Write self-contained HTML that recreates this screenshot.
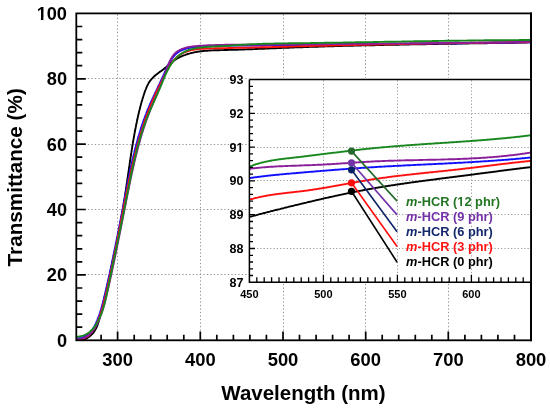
<!DOCTYPE html><html><head><meta charset="utf-8"><style>html,body{margin:0;padding:0;background:#fff;}svg{display:block;}text{font-family:"Liberation Sans",Arial,sans-serif;font-weight:bold;}</style></head><body>
<svg width="550" height="413" viewBox="0 0 550 413">
<rect width="550" height="413" fill="#fff"/>
<defs><clipPath id="cm"><rect x="76.3" y="13.4" width="454.7" height="326.9"/></clipPath>
<clipPath id="ci"><rect x="249.4" y="79.5" width="281.6" height="202.8"/></clipPath></defs>
<path d="M117.5,14.4 V340.3 M200.5,14.4 V340.3 M283.5,14.4 V340.3 M365.5,14.4 V340.3 M448.5,14.4 V340.3 M77.3,274.5 H531 M77.3,209.5 H531 M77.3,144.5 H531 M77.3,78.5 H531" stroke="#929292" stroke-width="1" stroke-dasharray="1.3 2.2" fill="none"/>
<path d="M84.6,340.3 v-5.5 M101.1,340.3 v-5.5 M117.6,340.3 v-8.8 M134.2,340.3 v-5.5 M150.7,340.3 v-5.5 M167.2,340.3 v-5.5 M183.8,340.3 v-5.5 M200.3,340.3 v-8.8 M216.8,340.3 v-5.5 M233.4,340.3 v-5.5 M249.9,340.3 v-5.5 M266.4,340.3 v-5.5 M283,340.3 v-8.8 M299.5,340.3 v-5.5 M316.1,340.3 v-5.5 M332.6,340.3 v-5.5 M349.1,340.3 v-5.5 M365.7,340.3 v-8.8 M382.2,340.3 v-5.5 M398.7,340.3 v-5.5 M415.3,340.3 v-5.5 M431.8,340.3 v-5.5 M448.3,340.3 v-8.8 M464.9,340.3 v-5.5 M481.4,340.3 v-5.5 M497.9,340.3 v-5.5 M514.5,340.3 v-5.5 M76.3,327.2 h6 M76.3,314.1 h6 M76.3,301.1 h6 M76.3,288 h6 M76.3,274.9 h9.5 M76.3,261.8 h6 M76.3,248.8 h6 M76.3,235.7 h6 M76.3,222.6 h6 M76.3,209.5 h9.5 M76.3,196.5 h6 M76.3,183.4 h6 M76.3,170.3 h6 M76.3,157.2 h6 M76.3,144.2 h9.5 M76.3,131.1 h6 M76.3,118 h6 M76.3,104.9 h6 M76.3,91.9 h6 M76.3,78.8 h9.5 M76.3,65.7 h6 M76.3,52.6 h6 M76.3,39.6 h6 M76.3,26.5 h6" stroke="#000" stroke-width="1.7" fill="none"/>
<g clip-path="url(#cm)" fill="none" stroke-width="1.9" stroke-linejoin="round" stroke-linecap="round">
<path d="M76.2,340 L77,340.1 77.8,340.2 78.6,340.2 79.4,340.2 80.2,340.2 81,340.1 81.8,340 82.6,339.8 83.3,339.6 84.1,339.4 84.9,339.1 85.6,338.8 86.3,338.5 87,338.1 87.7,337.7 88.4,337.3 89.1,336.8 89.7,336.3 90.3,335.8 90.9,335.3 91.5,334.7 92.1,334.1 92.6,333.6 93.1,332.9 93.6,332.3 94.1,331.7 94.5,331 95,330.3 95.4,329.6 95.8,328.9 96.1,328.2 96.5,327.5 96.8,326.8 97.1,326 97.4,325.3 97.7,324.5 97.9,323.8 98.2,323 98.4,322.2 98.7,321.5 98.9,320.7 99.1,319.9 99.3,319.2 99.5,318.4 99.7,317.6 99.9,316.8 100.1,316.1 100.3,315.3 100.5,314.5 100.7,313.7 100.9,313 101.1,312.2 101.3,311.4 101.5,310.6 101.6,309.8 101.8,309.1 102,308.3 102.2,307.5 102.4,306.7 102.6,305.9 102.7,305.2 102.9,304.4 103.1,303.6 103.3,302.8 103.5,302 103.7,301.3 103.8,300.5 104,299.7 104.2,298.9 104.4,298.1 104.6,297.3 104.7,296.6 104.9,295.8 105.1,295 105.3,294.2 105.5,293.4 105.6,292.7 105.8,291.9 106,291.1 106.2,290.3 106.4,289.5 106.5,288.8 106.7,288 106.9,287.2 107.1,286.4 107.2,285.6 107.4,284.9 107.6,284.1 107.8,283.3 108,282.5 108.1,281.7 108.3,280.9 108.5,280.2 108.7,279.4 108.8,278.6 109,277.8 109.2,277 109.4,276.3 109.5,275.5 109.7,274.7 109.9,273.9 110.1,273.1 110.2,272.3 110.4,271.6 110.6,270.8 110.7,270 110.9,269.2 111.1,268.4 111.3,267.6 111.4,266.9 111.6,266.1 111.8,265.3 111.9,264.5 112.1,263.7 112.3,262.9 112.5,262.2 112.6,261.4 112.8,260.6 113,259.8 113.1,259 113.3,258.2 113.5,257.5 113.6,256.7 113.8,255.9 114,255.1 114.1,254.3 114.3,253.5 114.5,252.8 114.6,252 114.8,251.2 115,250.4 115.1,249.6 115.3,248.8 115.4,248.1 115.6,247.3 115.8,246.5 115.9,245.7 116.1,244.9 116.2,244.1 116.4,243.3 116.6,242.6 116.7,241.8 116.9,241 117,240.2 117.2,239.4 117.4,238.6 117.5,237.8 117.7,237.1 117.8,236.3 118,235.5 118.1,234.7 118.3,233.9 118.4,233.1 118.6,232.3 118.7,231.6 118.9,230.8 119,230 119.2,229.2 119.3,228.4 119.5,227.6 119.6,226.8 119.8,226 119.9,225.3 120.1,224.5 120.2,223.7 120.4,222.9 120.5,222.1 120.7,221.3 120.8,220.5 121,219.7 121.1,218.9 121.2,218.2 121.4,217.4 121.5,216.6 121.7,215.8 121.8,215 121.9,214.2 122.1,213.4 122.2,212.6 122.4,211.8 122.5,211.1 122.6,210.3 122.8,209.5 122.9,208.7 123,207.9 123.2,207.1 123.3,206.3 123.4,205.5 123.6,204.7 123.7,203.9 123.8,203.2 123.9,202.4 124.1,201.6 124.2,200.8 124.3,200 124.4,199.2 124.6,198.4 124.7,197.6 124.8,196.8 124.9,196 125.1,195.2 125.2,194.4 125.3,193.7 125.4,192.9 125.5,192.1 125.7,191.3 125.8,190.5 125.9,189.7 126,188.9 126.1,188.1 126.3,187.3 126.4,186.5 126.5,185.7 126.6,184.9 126.7,184.1 126.8,183.3 127,182.6 127.1,181.8 127.2,181 127.3,180.2 127.4,179.4 127.5,178.6 127.6,177.8 127.8,177 127.9,176.2 128,175.4 128.1,174.6 128.2,173.8 128.3,173 128.4,172.2 128.6,171.5 128.7,170.7 128.8,169.9 128.9,169.1 129,168.3 129.1,167.5 129.2,166.7 129.4,165.9 129.5,165.1 129.6,164.3 129.7,163.5 129.8,162.7 129.9,161.9 130.1,161.1 130.2,160.3 130.3,159.6 130.4,158.8 130.5,158 130.6,157.2 130.8,156.4 130.9,155.6 131,154.8 131.1,154 131.2,153.2 131.4,152.4 131.5,151.6 131.6,150.8 131.7,150 131.9,149.3 132,148.5 132.1,147.7 132.2,146.9 132.4,146.1 132.5,145.3 132.6,144.5 132.8,143.7 132.9,142.9 133,142.1 133.2,141.3 133.3,140.6 133.4,139.8 133.6,139 133.7,138.2 133.8,137.4 134,136.6 134.1,135.8 134.3,135 134.4,134.2 134.5,133.5 134.7,132.7 134.8,131.9 135,131.1 135.1,130.3 135.3,129.5 135.4,128.7 135.6,127.9 135.7,127.2 135.9,126.4 136,125.6 136.2,124.8 136.4,124 136.5,123.2 136.7,122.4 136.9,121.7 137,120.9 137.2,120.1 137.4,119.3 137.5,118.5 137.7,117.7 137.9,117 138,116.2 138.2,115.4 138.4,114.6 138.6,113.8 138.8,113.1 138.9,112.3 139.1,111.5 139.3,110.7 139.5,109.9 139.7,109.2 139.9,108.4 140.1,107.6 140.3,106.8 140.5,106.1 140.7,105.3 140.9,104.5 141.1,103.7 141.3,103 141.5,102.2 141.8,101.4 142,100.6 142.2,99.9 142.4,99.1 142.7,98.3 142.9,97.6 143.2,96.8 143.4,96.1 143.6,95.3 143.9,94.5 144.1,93.8 144.4,93 144.7,92.2 144.9,91.5 145.2,90.7 145.5,90 145.8,89.2 146.1,88.5 146.4,87.7 146.7,87 147,86.3 147.3,85.6 147.7,84.8 148.1,84.1 148.4,83.4 148.8,82.7 149.3,82.1 149.7,81.4 150.2,80.7 150.7,80.1 151.2,79.5 151.7,78.9 152.3,78.3 152.8,77.7 153.4,77.2 154,76.6 154.6,76.1 155.2,75.6 155.8,75 156.4,74.5 157.1,74 157.7,73.6 158.3,73.1 159,72.6 159.6,72.1 160.2,71.6 160.9,71.2 161.5,70.7 162.2,70.2 162.8,69.7 163.5,69.2 164.1,68.7 164.7,68.2 165.3,67.7 166,67.2 166.6,66.7 167.2,66.2 167.8,65.7 168.4,65.1 169,64.6 169.6,64.1 170.2,63.6 170.8,63.1 171.5,62.6 172.1,62.1 172.7,61.6 173.4,61.1 174,60.6 174.6,60.1 175.3,59.7 176,59.2 176.7,58.8 177.3,58.4 178,58 178.8,57.6 179.5,57.3 180.2,56.9 180.9,56.6 181.6,56.3 182.4,55.9 183.1,55.6 183.9,55.3 184.6,55.1 185.4,54.8 186.1,54.5 186.9,54.3 187.7,54 188.4,53.8 189.2,53.6 190,53.4 190.7,53.2 191.5,53 192.3,52.8 193.1,52.6 193.9,52.4 194.6,52.3 195.4,52.1 196.2,52 197,51.8 197.8,51.7 198.6,51.6 199.4,51.5 200.2,51.4 201,51.3 201.8,51.2 202.6,51.1 203.4,51 204.2,50.9 205,50.9 205.8,50.8 206.6,50.7 207.4,50.7 208.2,50.6 209,50.6 209.8,50.5 210.6,50.5 211.4,50.4 212.2,50.4 213,50.4 213.8,50.3 214.6,50.3 215.4,50.3 216.2,50.2 217,50.2 217.8,50.2 218.6,50.2 219.4,50.2 220.2,50.1 221,50.1 221.8,50.1 222.6,50.1 223.4,50.1 224.2,50 225,50 225.8,50 226.6,50 227.4,50 228.2,49.9 229,49.9 229.8,49.9 230.6,49.9 231.4,49.9 232.2,49.8 233,49.8 233.8,49.8 234.6,49.8 235.4,49.7 236.2,49.7 237,49.7 237.8,49.7 238.6,49.6 239.4,49.6 240.2,49.6 241,49.6 241.8,49.5 242.6,49.5 243.4,49.5 244.2,49.5 245,49.4 245.8,49.4 246.6,49.4 247.4,49.3 248.2,49.3 249,49.3 249.8,49.2 250.6,49.2 251.4,49.2 252.2,49.2 253,49.1 253.8,49.1 254.6,49.1 255.4,49 256.2,49 257,49 257.8,48.9 258.6,48.9 259.4,48.9 260.2,48.8 261,48.8 261.8,48.8 262.6,48.7 263.4,48.7 264.2,48.7 265,48.6 265.8,48.6 266.6,48.6 267.4,48.5 268.2,48.5 269,48.5 269.8,48.4 270.6,48.4 271.4,48.4 272.2,48.3 273,48.3 273.8,48.3 274.6,48.2 275.4,48.2 276.2,48.2 277,48.1 277.8,48.1 278.6,48.1 279.4,48 280.2,48 281,48 281.8,47.9 282.6,47.9 283.4,47.9 284.2,47.8 285,47.8 285.8,47.8 286.6,47.7 287.4,47.7 288.2,47.7 289,47.7 289.8,47.6 290.6,47.6 291.4,47.6 292.2,47.5 293,47.5 293.8,47.5 294.6,47.4 295.4,47.4 296.2,47.4 297,47.4 297.8,47.3 298.6,47.3 299.4,47.3 300.2,47.2 301,47.2 301.8,47.2 302.6,47.2 303.5,47.1 304.3,47.1 305.1,47.1 305.9,47 306.7,47 307.5,47 308.3,47 309.1,46.9 309.9,46.9 310.7,46.9 311.5,46.9 312.3,46.8 313.1,46.8 313.9,46.8 314.7,46.8 315.5,46.7 316.3,46.7 317.1,46.7 317.9,46.7 318.7,46.6 319.5,46.6 320.3,46.6 321.1,46.6 321.9,46.5 322.7,46.5 323.5,46.5 324.3,46.5 325.1,46.4 325.9,46.4 326.7,46.4 327.5,46.4 328.3,46.3 329.1,46.3 329.9,46.3 330.7,46.3 331.5,46.2 332.3,46.2 333.1,46.2 333.9,46.2 334.7,46.1 335.5,46.1 336.3,46.1 337.1,46.1 337.9,46.1 338.7,46 339.5,46 340.3,46 341.1,46 341.9,46 342.7,45.9 343.5,45.9 344.3,45.9 345.1,45.9 345.9,45.8 346.7,45.8 347.5,45.8 348.3,45.8 349.1,45.8 349.9,45.7 350.7,45.7 351.5,45.7 352.3,45.7 353.1,45.7 353.9,45.6 354.7,45.6 355.5,45.6 356.3,45.6 357.1,45.6 357.9,45.5 358.7,45.5 359.5,45.5 360.3,45.5 361.1,45.5 361.9,45.4 362.7,45.4 363.5,45.4 364.3,45.4 365.1,45.4 365.9,45.4 366.7,45.3 367.5,45.3 368.3,45.3 369.1,45.3 369.9,45.3 370.7,45.2 371.5,45.2 372.3,45.2 373.1,45.2 373.9,45.2 374.7,45.2 375.5,45.1 376.3,45.1 377.1,45.1 377.9,45.1 378.7,45.1 379.5,45 380.4,45 381.2,45 382,45 382.8,45 383.6,45 384.4,44.9 385.2,44.9 386,44.9 386.8,44.9 387.6,44.9 388.4,44.9 389.2,44.8 390,44.8 390.8,44.8 391.6,44.8 392.4,44.8 393.2,44.8 394,44.8 394.8,44.7 395.6,44.7 396.4,44.7 397.2,44.7 398,44.7 398.8,44.7 399.6,44.6 400.4,44.6 401.2,44.6 402,44.6 402.8,44.6 403.6,44.6 404.4,44.6 405.2,44.5 406,44.5 406.8,44.5 407.6,44.5 408.4,44.5 409.2,44.5 410,44.4 410.8,44.4 411.6,44.4 412.4,44.4 413.2,44.4 414,44.4 414.8,44.4 415.6,44.3 416.4,44.3 417.2,44.3 418,44.3 418.8,44.3 419.6,44.3 420.4,44.3 421.2,44.2 422,44.2 422.8,44.2 423.6,44.2 424.4,44.2 425.2,44.2 426,44.2 426.8,44.1 427.6,44.1 428.4,44.1 429.2,44.1 430,44.1 430.8,44.1 431.6,44.1 432.4,44.1 433.2,44 434,44 434.8,44 435.6,44 436.4,44 437.2,44 438,44 438.8,43.9 439.6,43.9 440.4,43.9 441.2,43.9 442,43.9 442.8,43.9 443.6,43.9 444.4,43.8 445.2,43.8 446.1,43.8 446.9,43.8 447.7,43.8 448.5,43.8 449.3,43.8 450.1,43.8 450.9,43.7 451.7,43.7 452.5,43.7 453.3,43.7 454.1,43.7 454.9,43.7 455.7,43.7 456.5,43.7 457.3,43.6 458.1,43.6 458.9,43.6 459.7,43.6 460.5,43.6 461.3,43.6 462.1,43.6 462.9,43.5 463.7,43.5 464.5,43.5 465.3,43.5 466.1,43.5 466.9,43.5 467.7,43.5 468.5,43.5 469.3,43.4 470.1,43.4 470.9,43.4 471.7,43.4 472.5,43.4 473.3,43.4 474.1,43.4 474.9,43.3 475.7,43.3 476.5,43.3 477.3,43.3 478.1,43.3 478.9,43.3 479.7,43.3 480.5,43.3 481.3,43.2 482.1,43.2 482.9,43.2 483.7,43.2 484.5,43.2 485.3,43.2 486.1,43.2 486.9,43.2 487.7,43.1 488.5,43.1 489.3,43.1 490.1,43.1 490.9,43.1 491.7,43.1 492.5,43.1 493.3,43 494.1,43 494.9,43 495.7,43 496.5,43 497.3,43 498.1,43 498.9,42.9 499.7,42.9 500.5,42.9 501.3,42.9 502.1,42.9 502.9,42.9 503.7,42.9 504.5,42.8 505.3,42.8 506.1,42.8 506.9,42.8 507.7,42.8 508.5,42.8 509.3,42.8 510.1,42.8 511,42.7 511.8,42.7 512.6,42.7 513.4,42.7 514.2,42.7 515,42.7 515.8,42.6 516.6,42.6 517.4,42.6 518.2,42.6 519,42.6 519.8,42.6 520.6,42.6 521.4,42.5 522.2,42.5 523,42.5 523.8,42.5 524.6,42.5 525.4,42.5 526.2,42.5 527,42.4 527.8,42.4 528.6,42.4 529.4,42.4 530.2,42.4 531,42.4" stroke="#000000"/>
<path d="M76.1,338.3 L76.9,338.3 77.7,338.3 78.5,338.3 79.3,338.2 80.1,338.1 80.9,338 81.7,337.8 82.4,337.6 83.2,337.3 83.9,337 84.7,336.7 85.4,336.4 86.1,336 86.8,335.5 87.4,335.1 88.1,334.6 88.7,334.1 89.3,333.5 89.8,333 90.4,332.4 90.9,331.8 91.4,331.1 91.9,330.5 92.3,329.8 92.8,329.2 93.2,328.5 93.6,327.8 94,327.1 94.4,326.4 94.8,325.7 95.1,325 95.5,324.2 95.8,323.5 96.1,322.8 96.4,322 96.7,321.3 97.1,320.6 97.4,319.8 97.6,319.1 97.9,318.3 98.2,317.6 98.5,316.8 98.8,316.1 99,315.3 99.3,314.6 99.6,313.8 99.8,313 100.1,312.3 100.3,311.5 100.6,310.8 100.8,310 101,309.2 101.3,308.5 101.5,307.7 101.7,306.9 101.9,306.1 102.2,305.4 102.4,304.6 102.6,303.8 102.8,303.1 103,302.3 103.2,301.5 103.4,300.7 103.6,299.9 103.8,299.2 104,298.4 104.2,297.6 104.4,296.8 104.5,296.1 104.7,295.3 104.9,294.5 105.1,293.7 105.3,292.9 105.5,292.2 105.6,291.4 105.8,290.6 106,289.8 106.2,289 106.4,288.2 106.5,287.5 106.7,286.7 106.9,285.9 107.1,285.1 107.2,284.3 107.4,283.6 107.6,282.8 107.8,282 107.9,281.2 108.1,280.4 108.3,279.6 108.5,278.9 108.6,278.1 108.8,277.3 109,276.5 109.2,275.7 109.3,274.9 109.5,274.2 109.7,273.4 109.8,272.6 110,271.8 110.2,271 110.3,270.2 110.5,269.5 110.7,268.7 110.8,267.9 111,267.1 111.2,266.3 111.3,265.5 111.5,264.8 111.7,264 111.8,263.2 112,262.4 112.2,261.6 112.3,260.8 112.5,260 112.7,259.3 112.8,258.5 113,257.7 113.2,256.9 113.3,256.1 113.5,255.3 113.6,254.6 113.8,253.8 114,253 114.1,252.2 114.3,251.4 114.5,250.6 114.6,249.8 114.8,249.1 114.9,248.3 115.1,247.5 115.3,246.7 115.4,245.9 115.6,245.1 115.7,244.3 115.9,243.6 116.1,242.8 116.2,242 116.4,241.2 116.5,240.4 116.7,239.6 116.8,238.8 117,238.1 117.2,237.3 117.3,236.5 117.5,235.7 117.6,234.9 117.8,234.1 117.9,233.3 118.1,232.5 118.2,231.8 118.4,231 118.6,230.2 118.7,229.4 118.9,228.6 119,227.8 119.2,227 119.3,226.3 119.5,225.5 119.6,224.7 119.8,223.9 119.9,223.1 120.1,222.3 120.3,221.5 120.4,220.7 120.6,220 120.7,219.2 120.9,218.4 121,217.6 121.2,216.8 121.3,216 121.5,215.2 121.6,214.4 121.8,213.7 121.9,212.9 122.1,212.1 122.2,211.3 122.4,210.5 122.5,209.7 122.7,208.9 122.8,208.2 123,207.4 123.1,206.6 123.3,205.8 123.4,205 123.6,204.2 123.7,203.4 123.9,202.6 124,201.9 124.2,201.1 124.3,200.3 124.5,199.5 124.6,198.7 124.8,197.9 124.9,197.1 125.1,196.3 125.2,195.6 125.4,194.8 125.5,194 125.7,193.2 125.8,192.4 126,191.6 126.1,190.8 126.3,190 126.4,189.3 126.6,188.5 126.7,187.7 126.9,186.9 127,186.1 127.2,185.3 127.4,184.5 127.5,183.7 127.7,183 127.8,182.2 128,181.4 128.1,180.6 128.3,179.8 128.4,179 128.6,178.2 128.8,177.5 128.9,176.7 129.1,175.9 129.2,175.1 129.4,174.3 129.6,173.5 129.7,172.7 129.9,172 130,171.2 130.2,170.4 130.4,169.6 130.5,168.8 130.7,168 130.9,167.2 131,166.5 131.2,165.7 131.4,164.9 131.6,164.1 131.7,163.3 131.9,162.5 132.1,161.8 132.2,161 132.4,160.2 132.6,159.4 132.8,158.6 133,157.9 133.1,157.1 133.3,156.3 133.5,155.5 133.7,154.7 133.9,154 134.1,153.2 134.3,152.4 134.4,151.6 134.6,150.8 134.8,150.1 135,149.3 135.2,148.5 135.4,147.7 135.6,147 135.8,146.2 136,145.4 136.2,144.6 136.4,143.9 136.6,143.1 136.9,142.3 137.1,141.5 137.3,140.8 137.5,140 137.7,139.2 137.9,138.4 138.1,137.7 138.4,136.9 138.6,136.1 138.8,135.4 139,134.6 139.3,133.8 139.5,133.1 139.7,132.3 140,131.5 140.2,130.8 140.4,130 140.7,129.2 140.9,128.5 141.2,127.7 141.4,126.9 141.7,126.2 141.9,125.4 142.2,124.6 142.4,123.9 142.7,123.1 142.9,122.4 143.2,121.6 143.5,120.9 143.7,120.1 144,119.3 144.3,118.6 144.6,117.8 144.8,117.1 145.1,116.3 145.4,115.6 145.7,114.8 146,114.1 146.3,113.3 146.5,112.6 146.8,111.8 147.1,111.1 147.4,110.4 147.7,109.6 148,108.9 148.4,108.1 148.7,107.4 149,106.7 149.3,105.9 149.6,105.2 149.9,104.4 150.2,103.7 150.6,103 150.9,102.2 151.2,101.5 151.6,100.8 151.9,100.1 152.2,99.3 152.5,98.6 152.9,97.9 153.2,97.1 153.6,96.4 153.9,95.7 154.2,95 154.6,94.2 154.9,93.5 155.3,92.8 155.6,92.1 155.9,91.3 156.3,90.6 156.6,89.9 157,89.2 157.3,88.4 157.7,87.7 158,87 158.3,86.3 158.7,85.5 159,84.8 159.4,84.1 159.7,83.4 160,82.6 160.4,81.9 160.7,81.2 161.1,80.4 161.4,79.7 161.7,79 162.1,78.3 162.4,77.5 162.7,76.8 163.1,76.1 163.4,75.3 163.7,74.6 164.1,73.9 164.4,73.2 164.7,72.4 165,71.7 165.4,71 165.7,70.2 166.1,69.5 166.4,68.8 166.7,68.1 167.1,67.3 167.4,66.6 167.8,65.9 168.2,65.2 168.5,64.5 168.9,63.8 169.3,63.1 169.7,62.4 170.1,61.7 170.5,61 170.9,60.3 171.3,59.6 171.8,59 172.2,58.3 172.7,57.6 173.2,57 173.7,56.4 174.2,55.8 174.7,55.2 175.3,54.6 175.9,54 176.5,53.5 177.1,53 177.7,52.5 178.4,52.1 179.1,51.6 179.8,51.2 180.5,50.8 181.2,50.5 181.9,50.2 182.7,49.8 183.4,49.6 184.2,49.3 184.9,49 185.7,48.8 186.5,48.6 187.2,48.4 188,48.2 188.8,48.1 189.6,47.9 190.4,47.8 191.2,47.6 192,47.5 192.8,47.4 193.6,47.3 194.4,47.2 195.2,47.1 196,47 196.8,47 197.6,46.9 198.3,46.8 199.1,46.8 199.9,46.7 200.7,46.6 201.5,46.6 202.3,46.5 203.1,46.5 203.9,46.4 204.7,46.4 205.5,46.3 206.3,46.3 207.1,46.2 207.9,46.2 208.7,46.1 209.5,46.1 210.4,46.1 211.2,46 212,46 212.8,46 213.6,45.9 214.4,45.9 215.2,45.9 216,45.9 216.8,45.8 217.6,45.8 218.4,45.8 219.2,45.8 220,45.8 220.8,45.7 221.6,45.7 222.4,45.7 223.2,45.7 224,45.7 224.8,45.7 225.6,45.7 226.4,45.7 227.2,45.7 228,45.6 228.8,45.6 229.6,45.6 230.4,45.6 231.2,45.6 232,45.6 232.8,45.6 233.6,45.6 234.4,45.6 235.2,45.6 236,45.6 236.8,45.6 237.6,45.6 238.4,45.6 239.2,45.6 240,45.6 240.8,45.6 241.6,45.6 242.4,45.6 243.2,45.6 244,45.6 244.8,45.6 245.6,45.6 246.4,45.6 247.2,45.6 248,45.6 248.8,45.6 249.6,45.6 250.4,45.6 251.2,45.6 252,45.6 252.8,45.6 253.6,45.6 254.4,45.6 255.2,45.6 256,45.5 256.8,45.5 257.6,45.5 258.4,45.5 259.2,45.5 260,45.5 260.9,45.5 261.7,45.5 262.5,45.5 263.3,45.5 264.1,45.5 264.9,45.5 265.7,45.5 266.5,45.4 267.3,45.4 268.1,45.4 268.9,45.4 269.7,45.4 270.5,45.4 271.3,45.4 272.1,45.4 272.9,45.4 273.7,45.4 274.5,45.3 275.3,45.3 276.1,45.3 276.9,45.3 277.7,45.3 278.5,45.3 279.3,45.3 280.1,45.3 280.9,45.2 281.7,45.2 282.5,45.2 283.3,45.2 284.1,45.2 284.9,45.2 285.7,45.2 286.5,45.2 287.3,45.2 288.1,45.1 288.9,45.1 289.7,45.1 290.5,45.1 291.3,45.1 292.1,45.1 292.9,45.1 293.7,45.1 294.5,45 295.3,45 296.1,45 296.9,45 297.7,45 298.5,45 299.3,45 300.1,45 300.9,45 301.7,44.9 302.5,44.9 303.3,44.9 304.1,44.9 304.9,44.9 305.7,44.9 306.5,44.9 307.3,44.9 308.1,44.9 308.9,44.8 309.8,44.8 310.6,44.8 311.4,44.8 312.2,44.8 313,44.8 313.8,44.8 314.6,44.8 315.4,44.8 316.2,44.8 317,44.7 317.8,44.7 318.6,44.7 319.4,44.7 320.2,44.7 321,44.7 321.8,44.7 322.6,44.7 323.4,44.7 324.2,44.7 325,44.6 325.8,44.6 326.6,44.6 327.4,44.6 328.2,44.6 329,44.6 329.8,44.6 330.6,44.6 331.4,44.6 332.2,44.6 333,44.5 333.8,44.5 334.6,44.5 335.4,44.5 336.2,44.5 337,44.5 337.8,44.5 338.6,44.5 339.4,44.5 340.2,44.5 341,44.4 341.8,44.4 342.6,44.4 343.4,44.4 344.2,44.4 345,44.4 345.8,44.4 346.6,44.4 347.4,44.4 348.2,44.4 349,44.4 349.8,44.3 350.6,44.3 351.4,44.3 352.2,44.3 353,44.3 353.8,44.3 354.6,44.3 355.4,44.3 356.2,44.3 357,44.3 357.8,44.3 358.7,44.2 359.5,44.2 360.3,44.2 361.1,44.2 361.9,44.2 362.7,44.2 363.5,44.2 364.3,44.2 365.1,44.2 365.9,44.2 366.7,44.2 367.5,44.1 368.3,44.1 369.1,44.1 369.9,44.1 370.7,44.1 371.5,44.1 372.3,44.1 373.1,44.1 373.9,44.1 374.7,44.1 375.5,44.1 376.3,44.1 377.1,44 377.9,44 378.7,44 379.5,44 380.3,44 381.1,44 381.9,44 382.7,44 383.5,44 384.3,44 385.1,44 385.9,44 386.7,43.9 387.5,43.9 388.3,43.9 389.1,43.9 389.9,43.9 390.7,43.9 391.5,43.9 392.3,43.9 393.1,43.9 393.9,43.9 394.7,43.9 395.5,43.9 396.3,43.8 397.1,43.8 397.9,43.8 398.7,43.8 399.5,43.8 400.3,43.8 401.1,43.8 401.9,43.8 402.7,43.8 403.5,43.8 404.3,43.8 405.1,43.8 405.9,43.7 406.7,43.7 407.6,43.7 408.4,43.7 409.2,43.7 410,43.7 410.8,43.7 411.6,43.7 412.4,43.7 413.2,43.7 414,43.7 414.8,43.7 415.6,43.6 416.4,43.6 417.2,43.6 418,43.6 418.8,43.6 419.6,43.6 420.4,43.6 421.2,43.6 422,43.6 422.8,43.6 423.6,43.6 424.4,43.6 425.2,43.5 426,43.5 426.8,43.5 427.6,43.5 428.4,43.5 429.2,43.5 430,43.5 430.8,43.5 431.6,43.5 432.4,43.5 433.2,43.5 434,43.5 434.8,43.4 435.6,43.4 436.4,43.4 437.2,43.4 438,43.4 438.8,43.4 439.6,43.4 440.4,43.4 441.2,43.4 442,43.4 442.8,43.4 443.6,43.4 444.4,43.3 445.2,43.3 446,43.3 446.8,43.3 447.6,43.3 448.4,43.3 449.2,43.3 450,43.3 450.8,43.3 451.6,43.3 452.4,43.3 453.2,43.2 454,43.2 454.8,43.2 455.7,43.2 456.5,43.2 457.3,43.2 458.1,43.2 458.9,43.2 459.7,43.2 460.5,43.2 461.3,43.2 462.1,43.2 462.9,43.1 463.7,43.1 464.5,43.1 465.3,43.1 466.1,43.1 466.9,43.1 467.7,43.1 468.5,43.1 469.3,43.1 470.1,43.1 470.9,43.1 471.7,43 472.5,43 473.3,43 474.1,43 474.9,43 475.7,43 476.5,43 477.3,43 478.1,43 478.9,43 479.7,42.9 480.5,42.9 481.3,42.9 482.1,42.9 482.9,42.9 483.7,42.9 484.5,42.9 485.3,42.9 486.1,42.9 486.9,42.9 487.7,42.9 488.5,42.8 489.3,42.8 490.1,42.8 490.9,42.8 491.7,42.8 492.5,42.8 493.3,42.8 494.1,42.8 494.9,42.8 495.7,42.8 496.5,42.7 497.3,42.7 498.1,42.7 498.9,42.7 499.7,42.7 500.5,42.7 501.3,42.7 502.1,42.7 502.9,42.7 503.7,42.6 504.6,42.6 505.4,42.6 506.2,42.6 507,42.6 507.8,42.6 508.6,42.6 509.4,42.6 510.2,42.6 511,42.6 511.8,42.5 512.6,42.5 513.4,42.5 514.2,42.5 515,42.5 515.8,42.5 516.6,42.5 517.4,42.5 518.2,42.5 519,42.4 519.8,42.4 520.6,42.4 521.4,42.4 522.2,42.4 523,42.4 523.8,42.4 524.6,42.4 525.4,42.3 526.2,42.3 527,42.3 527.8,42.3 528.6,42.3 529.4,42.3 530.2,42.3 531,42.3" stroke="#1010ff"/>
<path d="M76.2,339.8 L77,339.8 77.8,339.8 78.6,339.7 79.4,339.6 80.2,339.5 81,339.3 81.8,339.1 82.5,338.9 83.3,338.7 84,338.4 84.8,338 85.5,337.7 86.2,337.3 86.8,336.8 87.5,336.4 88.1,335.9 88.7,335.4 89.3,334.8 89.9,334.3 90.5,333.7 91,333.1 91.5,332.5 92,331.8 92.5,331.2 92.9,330.5 93.4,329.8 93.8,329.2 94.2,328.5 94.6,327.8 95,327.1 95.3,326.4 95.7,325.6 96,324.9 96.4,324.2 96.7,323.5 97,322.7 97.3,322 97.7,321.3 98,320.5 98.3,319.8 98.5,319 98.8,318.3 99.1,317.5 99.4,316.8 99.7,316 99.9,315.3 100.2,314.5 100.4,313.7 100.7,313 101,312.2 101.2,311.5 101.4,310.7 101.7,309.9 101.9,309.2 102.1,308.4 102.4,307.6 102.6,306.9 102.8,306.1 103,305.3 103.2,304.5 103.4,303.8 103.6,303 103.8,302.2 104.1,301.4 104.2,300.7 104.4,299.9 104.6,299.1 104.8,298.3 105,297.5 105.2,296.8 105.4,296 105.6,295.2 105.8,294.4 105.9,293.7 106.1,292.9 106.3,292.1 106.5,291.3 106.7,290.5 106.8,289.7 107,289 107.2,288.2 107.4,287.4 107.6,286.6 107.7,285.8 107.9,285.1 108.1,284.3 108.2,283.5 108.4,282.7 108.6,281.9 108.8,281.1 108.9,280.4 109.1,279.6 109.3,278.8 109.5,278 109.6,277.2 109.8,276.4 110,275.7 110.1,274.9 110.3,274.1 110.5,273.3 110.6,272.5 110.8,271.7 111,271 111.1,270.2 111.3,269.4 111.5,268.6 111.6,267.8 111.8,267 112,266.3 112.1,265.5 112.3,264.7 112.5,263.9 112.6,263.1 112.8,262.3 112.9,261.5 113.1,260.8 113.3,260 113.4,259.2 113.6,258.4 113.7,257.6 113.9,256.8 114.1,256 114.2,255.3 114.4,254.5 114.5,253.7 114.7,252.9 114.9,252.1 115,251.3 115.2,250.5 115.3,249.8 115.5,249 115.7,248.2 115.8,247.4 116,246.6 116.1,245.8 116.3,245 116.4,244.3 116.6,243.5 116.8,242.7 116.9,241.9 117.1,241.1 117.2,240.3 117.4,239.5 117.5,238.8 117.7,238 117.8,237.2 118,236.4 118.2,235.6 118.3,234.8 118.5,234 118.6,233.3 118.8,232.5 118.9,231.7 119.1,230.9 119.2,230.1 119.4,229.3 119.5,228.5 119.7,227.7 119.8,227 120,226.2 120.2,225.4 120.3,224.6 120.5,223.8 120.6,223 120.8,222.2 120.9,221.5 121.1,220.7 121.2,219.9 121.4,219.1 121.5,218.3 121.7,217.5 121.8,216.7 122,215.9 122.1,215.2 122.3,214.4 122.4,213.6 122.6,212.8 122.8,212 122.9,211.2 123.1,210.4 123.2,209.7 123.4,208.9 123.5,208.1 123.7,207.3 123.8,206.5 124,205.7 124.1,204.9 124.3,204.1 124.4,203.4 124.6,202.6 124.8,201.8 124.9,201 125.1,200.2 125.2,199.4 125.4,198.6 125.5,197.9 125.7,197.1 125.8,196.3 126,195.5 126.1,194.7 126.3,193.9 126.5,193.1 126.6,192.4 126.8,191.6 126.9,190.8 127.1,190 127.2,189.2 127.4,188.4 127.6,187.6 127.7,186.8 127.9,186.1 128,185.3 128.2,184.5 128.4,183.7 128.5,182.9 128.7,182.1 128.8,181.4 129,180.6 129.2,179.8 129.3,179 129.5,178.2 129.7,177.4 129.8,176.6 130,175.9 130.2,175.1 130.3,174.3 130.5,173.5 130.7,172.7 130.8,171.9 131,171.2 131.2,170.4 131.4,169.6 131.5,168.8 131.7,168 131.9,167.2 132.1,166.5 132.2,165.7 132.4,164.9 132.6,164.1 132.8,163.3 133,162.6 133.1,161.8 133.3,161 133.5,160.2 133.7,159.4 133.9,158.7 134.1,157.9 134.3,157.1 134.4,156.3 134.6,155.5 134.8,154.8 135,154 135.2,153.2 135.4,152.4 135.6,151.7 135.8,150.9 136,150.1 136.2,149.3 136.4,148.6 136.6,147.8 136.8,147 137,146.2 137.2,145.5 137.4,144.7 137.6,143.9 137.9,143.1 138.1,142.4 138.3,141.6 138.5,140.8 138.7,140 138.9,139.3 139.2,138.5 139.4,137.7 139.6,137 139.8,136.2 140,135.4 140.3,134.7 140.5,133.9 140.7,133.1 141,132.4 141.2,131.6 141.4,130.8 141.7,130.1 141.9,129.3 142.2,128.5 142.4,127.8 142.7,127 142.9,126.2 143.2,125.5 143.4,124.7 143.7,124 143.9,123.2 144.2,122.4 144.4,121.7 144.7,120.9 145,120.2 145.2,119.4 145.5,118.7 145.8,117.9 146,117.1 146.3,116.4 146.6,115.6 146.8,114.9 147.1,114.1 147.4,113.4 147.7,112.6 148,111.9 148.3,111.1 148.6,110.4 148.8,109.6 149.1,108.9 149.4,108.2 149.7,107.4 150,106.7 150.3,105.9 150.6,105.2 151,104.4 151.3,103.7 151.6,103 151.9,102.2 152.2,101.5 152.5,100.8 152.8,100 153.2,99.3 153.5,98.6 153.8,97.8 154.1,97.1 154.5,96.4 154.8,95.6 155.1,94.9 155.4,94.2 155.8,93.4 156.1,92.7 156.5,92 156.8,91.2 157.1,90.5 157.5,89.8 157.8,89.1 158.1,88.3 158.5,87.6 158.8,86.9 159.2,86.2 159.5,85.5 159.9,84.7 160.2,84 160.6,83.3 160.9,82.6 161.3,81.8 161.6,81.1 162,80.4 162.3,79.7 162.7,79 163,78.2 163.4,77.5 163.7,76.8 164.1,76.1 164.5,75.4 164.8,74.7 165.2,73.9 165.5,73.2 165.9,72.5 166.3,71.8 166.6,71.1 167,70.4 167.4,69.7 167.8,69 168.2,68.3 168.6,67.6 169,66.9 169.4,66.2 169.8,65.5 170.3,64.9 170.7,64.2 171.2,63.5 171.6,62.9 172.1,62.2 172.6,61.6 173.1,61 173.6,60.4 174.1,59.7 174.7,59.2 175.2,58.6 175.8,58 176.4,57.5 177,56.9 177.6,56.4 178.2,55.9 178.9,55.5 179.5,55 180.2,54.6 180.9,54.2 181.6,53.8 182.3,53.4 183,53 183.8,52.7 184.5,52.4 185.2,52.1 186,51.8 186.7,51.5 187.5,51.3 188.3,51 189,50.8 189.8,50.6 190.6,50.4 191.4,50.2 192.1,50 192.9,49.9 193.7,49.7 194.5,49.6 195.3,49.5 196.1,49.4 196.9,49.2 197.7,49.2 198.5,49.1 199.3,49 200.1,48.9 200.9,48.9 201.7,48.8 202.5,48.8 203.3,48.7 204.1,48.7 204.9,48.6 205.7,48.6 206.5,48.6 207.3,48.5 208.1,48.5 208.9,48.5 209.7,48.5 210.5,48.5 211.3,48.4 212.1,48.4 212.9,48.4 213.7,48.4 214.5,48.4 215.3,48.3 216.1,48.3 216.9,48.3 217.7,48.3 218.5,48.3 219.3,48.2 220.1,48.2 220.9,48.2 221.7,48.2 222.5,48.2 223.3,48.2 224.1,48.1 224.9,48.1 225.7,48.1 226.5,48.1 227.3,48.1 228.1,48 228.9,48 229.7,48 230.5,48 231.3,48 232.1,48 232.9,47.9 233.7,47.9 234.5,47.9 235.3,47.9 236.1,47.9 236.9,47.9 237.7,47.8 238.5,47.8 239.3,47.8 240.1,47.8 240.9,47.8 241.7,47.8 242.5,47.7 243.3,47.7 244.1,47.7 244.9,47.7 245.7,47.7 246.5,47.6 247.3,47.6 248.1,47.6 248.9,47.6 249.7,47.6 250.5,47.6 251.3,47.5 252.1,47.5 252.9,47.5 253.7,47.5 254.5,47.5 255.4,47.4 256.2,47.4 257,47.4 257.8,47.4 258.6,47.4 259.4,47.4 260.2,47.3 261,47.3 261.8,47.3 262.6,47.3 263.4,47.3 264.2,47.2 265,47.2 265.8,47.2 266.6,47.2 267.4,47.2 268.2,47.1 269,47.1 269.8,47.1 270.6,47.1 271.4,47.1 272.2,47 273,47 273.8,47 274.6,47 275.4,46.9 276.2,46.9 277,46.9 277.8,46.9 278.6,46.9 279.4,46.8 280.2,46.8 281,46.8 281.8,46.8 282.6,46.8 283.4,46.7 284.2,46.7 285,46.7 285.8,46.7 286.6,46.7 287.4,46.6 288.2,46.6 289,46.6 289.8,46.6 290.6,46.6 291.4,46.5 292.2,46.5 293,46.5 293.8,46.5 294.6,46.5 295.4,46.4 296.2,46.4 297,46.4 297.8,46.4 298.6,46.3 299.4,46.3 300.2,46.3 301,46.3 301.8,46.3 302.6,46.2 303.4,46.2 304.2,46.2 305,46.2 305.8,46.2 306.6,46.1 307.4,46.1 308.2,46.1 309,46.1 309.8,46.1 310.6,46 311.4,46 312.2,46 313,46 313.8,46 314.6,45.9 315.4,45.9 316.2,45.9 317,45.9 317.8,45.9 318.6,45.8 319.4,45.8 320.3,45.8 321.1,45.8 321.9,45.8 322.7,45.8 323.5,45.7 324.3,45.7 325.1,45.7 325.9,45.7 326.7,45.7 327.5,45.6 328.3,45.6 329.1,45.6 329.9,45.6 330.7,45.6 331.5,45.5 332.3,45.5 333.1,45.5 333.9,45.5 334.7,45.5 335.5,45.4 336.3,45.4 337.1,45.4 337.9,45.4 338.7,45.4 339.5,45.3 340.3,45.3 341.1,45.3 341.9,45.3 342.7,45.3 343.5,45.3 344.3,45.2 345.1,45.2 345.9,45.2 346.7,45.2 347.5,45.2 348.3,45.1 349.1,45.1 349.9,45.1 350.7,45.1 351.5,45.1 352.3,45.1 353.1,45 353.9,45 354.7,45 355.5,45 356.3,45 357.1,44.9 357.9,44.9 358.7,44.9 359.5,44.9 360.3,44.9 361.1,44.9 361.9,44.8 362.7,44.8 363.5,44.8 364.3,44.8 365.1,44.8 365.9,44.8 366.7,44.7 367.5,44.7 368.3,44.7 369.1,44.7 369.9,44.7 370.7,44.6 371.5,44.6 372.3,44.6 373.1,44.6 373.9,44.6 374.7,44.6 375.5,44.5 376.3,44.5 377.1,44.5 377.9,44.5 378.7,44.5 379.5,44.5 380.3,44.4 381.1,44.4 381.9,44.4 382.8,44.4 383.6,44.4 384.4,44.4 385.2,44.3 386,44.3 386.8,44.3 387.6,44.3 388.4,44.3 389.2,44.3 390,44.2 390.8,44.2 391.6,44.2 392.4,44.2 393.2,44.2 394,44.2 394.8,44.2 395.6,44.1 396.4,44.1 397.2,44.1 398,44.1 398.8,44.1 399.6,44.1 400.4,44 401.2,44 402,44 402.8,44 403.6,44 404.4,44 405.2,43.9 406,43.9 406.8,43.9 407.6,43.9 408.4,43.9 409.2,43.9 410,43.9 410.8,43.8 411.6,43.8 412.4,43.8 413.2,43.8 414,43.8 414.8,43.8 415.6,43.8 416.4,43.7 417.2,43.7 418,43.7 418.8,43.7 419.6,43.7 420.4,43.7 421.2,43.6 422,43.6 422.8,43.6 423.6,43.6 424.4,43.6 425.2,43.6 426,43.6 426.8,43.5 427.6,43.5 428.4,43.5 429.2,43.5 430,43.5 430.8,43.5 431.6,43.5 432.4,43.4 433.2,43.4 434,43.4 434.8,43.4 435.6,43.4 436.4,43.4 437.2,43.4 438,43.4 438.8,43.3 439.6,43.3 440.4,43.3 441.2,43.3 442.1,43.3 442.9,43.3 443.7,43.3 444.5,43.2 445.3,43.2 446.1,43.2 446.9,43.2 447.7,43.2 448.5,43.2 449.3,43.2 450.1,43.2 450.9,43.1 451.7,43.1 452.5,43.1 453.3,43.1 454.1,43.1 454.9,43.1 455.7,43.1 456.5,43.1 457.3,43 458.1,43 458.9,43 459.7,43 460.5,43 461.3,43 462.1,43 462.9,43 463.7,42.9 464.5,42.9 465.3,42.9 466.1,42.9 466.9,42.9 467.7,42.9 468.5,42.9 469.3,42.9 470.1,42.8 470.9,42.8 471.7,42.8 472.5,42.8 473.3,42.8 474.1,42.8 474.9,42.8 475.7,42.8 476.5,42.8 477.3,42.7 478.1,42.7 478.9,42.7 479.7,42.7 480.5,42.7 481.3,42.7 482.1,42.7 482.9,42.7 483.7,42.7 484.5,42.6 485.3,42.6 486.1,42.6 486.9,42.6 487.7,42.6 488.5,42.6 489.3,42.6 490.1,42.6 490.9,42.6 491.7,42.6 492.5,42.5 493.3,42.5 494.1,42.5 494.9,42.5 495.7,42.5 496.5,42.5 497.3,42.5 498.1,42.5 499,42.5 499.8,42.5 500.6,42.4 501.4,42.4 502.2,42.4 503,42.4 503.8,42.4 504.6,42.4 505.4,42.4 506.2,42.4 507,42.4 507.8,42.4 508.6,42.3 509.4,42.3 510.2,42.3 511,42.3 511.8,42.3 512.6,42.3 513.4,42.3 514.2,42.3 515,42.3 515.8,42.3 516.6,42.3 517.4,42.3 518.2,42.2 519,42.2 519.8,42.2 520.6,42.2 521.4,42.2 522.2,42.2 523,42.2 523.8,42.2 524.6,42.2 525.4,42.2 526.2,42.2 527,42.2 527.8,42.1 528.6,42.1 529.4,42.1 530.2,42.1 531,42.1" stroke="#ff1010"/>
<path d="M76.1,339.1 L76.9,339.1 77.7,339.1 78.5,339.1 79.3,339 80.1,338.9 80.9,338.7 81.7,338.6 82.5,338.4 83.3,338.1 84,337.9 84.7,337.6 85.5,337.2 86.2,336.8 86.9,336.4 87.5,336 88.2,335.5 88.8,335.1 89.4,334.5 90,334 90.6,333.4 91.2,332.9 91.7,332.3 92.2,331.7 92.7,331 93.2,330.4 93.7,329.7 94.1,329.1 94.6,328.4 95,327.7 95.4,327 95.8,326.3 96.2,325.6 96.6,324.9 96.9,324.2 97.3,323.5 97.6,322.8 98,322.1 98.3,321.3 98.6,320.6 98.9,319.9 99.3,319.1 99.6,318.4 99.9,317.6 100.2,316.9 100.4,316.2 100.7,315.4 101,314.7 101.3,313.9 101.6,313.1 101.8,312.4 102.1,311.6 102.3,310.9 102.6,310.1 102.8,309.3 103.1,308.6 103.3,307.8 103.5,307 103.7,306.3 104,305.5 104.2,304.7 104.4,304 104.6,303.2 104.8,302.4 105,301.6 105.2,300.9 105.4,300.1 105.6,299.3 105.8,298.5 106,297.8 106.2,297 106.4,296.2 106.6,295.4 106.8,294.6 107,293.9 107.1,293.1 107.3,292.3 107.5,291.5 107.7,290.7 107.9,290 108,289.2 108.2,288.4 108.4,287.6 108.6,286.8 108.7,286.1 108.9,285.3 109.1,284.5 109.3,283.7 109.4,282.9 109.6,282.1 109.8,281.4 110,280.6 110.1,279.8 110.3,279 110.5,278.2 110.6,277.5 110.8,276.7 111,275.9 111.2,275.1 111.3,274.3 111.5,273.5 111.7,272.8 111.8,272 112,271.2 112.2,270.4 112.3,269.6 112.5,268.8 112.7,268.1 112.8,267.3 113,266.5 113.2,265.7 113.3,264.9 113.5,264.1 113.7,263.4 113.8,262.6 114,261.8 114.2,261 114.3,260.2 114.5,259.4 114.6,258.6 114.8,257.9 115,257.1 115.1,256.3 115.3,255.5 115.5,254.7 115.6,253.9 115.8,253.2 115.9,252.4 116.1,251.6 116.3,250.8 116.4,250 116.6,249.2 116.7,248.4 116.9,247.7 117.1,246.9 117.2,246.1 117.4,245.3 117.5,244.5 117.7,243.7 117.9,242.9 118,242.2 118.2,241.4 118.3,240.6 118.5,239.8 118.6,239 118.8,238.2 119,237.5 119.1,236.7 119.3,235.9 119.4,235.1 119.6,234.3 119.8,233.5 119.9,232.7 120.1,232 120.2,231.2 120.4,230.4 120.5,229.6 120.7,228.8 120.8,228 121,227.2 121.2,226.5 121.3,225.7 121.5,224.9 121.6,224.1 121.8,223.3 121.9,222.5 122.1,221.7 122.2,220.9 122.4,220.2 122.6,219.4 122.7,218.6 122.9,217.8 123,217 123.2,216.2 123.3,215.4 123.5,214.7 123.6,213.9 123.8,213.1 124,212.3 124.1,211.5 124.3,210.7 124.4,209.9 124.6,209.2 124.7,208.4 124.9,207.6 125,206.8 125.2,206 125.4,205.2 125.5,204.4 125.7,203.7 125.8,202.9 126,202.1 126.1,201.3 126.3,200.5 126.4,199.7 126.6,198.9 126.8,198.2 126.9,197.4 127.1,196.6 127.2,195.8 127.4,195 127.5,194.2 127.7,193.4 127.9,192.7 128,191.9 128.2,191.1 128.3,190.3 128.5,189.5 128.7,188.7 128.8,187.9 129,187.2 129.1,186.4 129.3,185.6 129.5,184.8 129.6,184 129.8,183.2 129.9,182.5 130.1,181.7 130.3,180.9 130.4,180.1 130.6,179.3 130.8,178.5 130.9,177.8 131.1,177 131.3,176.2 131.4,175.4 131.6,174.6 131.8,173.8 131.9,173.1 132.1,172.3 132.3,171.5 132.5,170.7 132.6,169.9 132.8,169.1 133,168.4 133.2,167.6 133.3,166.8 133.5,166 133.7,165.2 133.9,164.5 134,163.7 134.2,162.9 134.4,162.1 134.6,161.3 134.8,160.6 135,159.8 135.1,159 135.3,158.2 135.5,157.4 135.7,156.7 135.9,155.9 136.1,155.1 136.3,154.3 136.5,153.5 136.7,152.8 136.9,152 137.1,151.2 137.3,150.4 137.5,149.7 137.7,148.9 137.9,148.1 138.1,147.3 138.3,146.6 138.5,145.8 138.7,145 138.9,144.2 139.1,143.5 139.4,142.7 139.6,141.9 139.8,141.2 140,140.4 140.2,139.6 140.4,138.8 140.7,138.1 140.9,137.3 141.1,136.5 141.3,135.8 141.6,135 141.8,134.2 142,133.5 142.3,132.7 142.5,131.9 142.8,131.2 143,130.4 143.2,129.7 143.5,128.9 143.7,128.1 144,127.4 144.2,126.6 144.5,125.8 144.7,125.1 145,124.3 145.2,123.6 145.5,122.8 145.8,122 146,121.3 146.3,120.5 146.6,119.8 146.8,119 147.1,118.3 147.4,117.5 147.7,116.8 147.9,116 148.2,115.3 148.5,114.5 148.8,113.8 149.1,113 149.4,112.3 149.7,111.5 149.9,110.8 150.2,110 150.5,109.3 150.8,108.6 151.1,107.8 151.5,107.1 151.8,106.3 152.1,105.6 152.4,104.9 152.7,104.1 153,103.4 153.3,102.6 153.6,101.9 154,101.2 154.3,100.4 154.6,99.7 154.9,99 155.2,98.2 155.6,97.5 155.9,96.8 156.2,96 156.5,95.3 156.8,94.6 157.2,93.8 157.5,93.1 157.8,92.4 158.1,91.6 158.4,90.9 158.7,90.1 159,89.4 159.4,88.7 159.7,87.9 160,87.2 160.3,86.5 160.6,85.7 160.9,85 161.2,84.2 161.5,83.5 161.8,82.7 162.1,82 162.4,81.2 162.6,80.5 162.9,79.7 163.2,79 163.5,78.2 163.8,77.5 164,76.7 164.3,76 164.5,75.2 164.8,74.5 165.1,73.7 165.3,72.9 165.6,72.2 165.8,71.4 166.1,70.7 166.3,69.9 166.6,69.1 166.9,68.4 167.1,67.6 167.4,66.9 167.7,66.1 168,65.4 168.3,64.6 168.6,63.9 168.9,63.2 169.2,62.4 169.5,61.7 169.9,61 170.2,60.3 170.6,59.5 171,58.8 171.4,58.1 171.8,57.5 172.2,56.8 172.7,56.1 173.2,55.5 173.6,54.8 174.2,54.2 174.7,53.7 175.3,53.1 175.9,52.6 176.5,52.1 177.2,51.6 177.8,51.1 178.5,50.7 179.2,50.3 179.9,49.9 180.6,49.6 181.3,49.2 182.1,48.9 182.8,48.7 183.6,48.4 184.4,48.2 185.1,47.9 185.9,47.7 186.7,47.5 187.5,47.3 188.2,47.2 189,47 189.8,46.9 190.6,46.8 191.4,46.6 192.2,46.5 193,46.4 193.8,46.3 194.6,46.3 195.4,46.2 196.2,46.1 197,46 197.8,46 198.6,45.9 199.4,45.8 200.2,45.8 201,45.7 201.8,45.7 202.6,45.6 203.4,45.6 204.2,45.5 205,45.5 205.8,45.4 206.6,45.4 207.4,45.3 208.2,45.3 209,45.3 209.8,45.2 210.6,45.2 211.4,45.2 212.2,45.1 213,45.1 213.8,45.1 214.6,45.1 215.4,45 216.2,45 217,45 217.8,45 218.6,45 219.4,44.9 220.2,44.9 221,44.9 221.8,44.9 222.6,44.9 223.4,44.9 224.2,44.9 225,44.8 225.8,44.8 226.6,44.8 227.4,44.8 228.2,44.8 229,44.8 229.8,44.8 230.6,44.8 231.4,44.8 232.2,44.8 233,44.8 233.8,44.8 234.6,44.8 235.4,44.8 236.2,44.8 237,44.8 237.8,44.8 238.6,44.8 239.4,44.8 240.2,44.8 241,44.8 241.8,44.8 242.6,44.8 243.4,44.8 244.2,44.8 245,44.8 245.8,44.8 246.6,44.8 247.4,44.8 248.2,44.8 249,44.8 249.8,44.8 250.6,44.8 251.4,44.8 252.2,44.8 253,44.8 253.8,44.8 254.6,44.8 255.4,44.8 256.2,44.8 257,44.8 257.8,44.8 258.6,44.8 259.4,44.7 260.2,44.7 261,44.7 261.8,44.7 262.6,44.7 263.4,44.7 264.2,44.7 265,44.7 265.8,44.7 266.6,44.7 267.4,44.7 268.2,44.7 269,44.7 269.8,44.7 270.7,44.7 271.5,44.7 272.3,44.7 273.1,44.7 273.9,44.6 274.7,44.6 275.5,44.6 276.3,44.6 277.1,44.6 277.9,44.6 278.7,44.6 279.5,44.6 280.3,44.6 281.1,44.6 281.9,44.6 282.7,44.6 283.5,44.6 284.3,44.6 285.1,44.5 285.9,44.5 286.7,44.5 287.5,44.5 288.3,44.5 289.1,44.5 289.9,44.5 290.7,44.5 291.5,44.5 292.3,44.5 293.1,44.5 293.9,44.5 294.7,44.4 295.5,44.4 296.3,44.4 297.1,44.4 297.9,44.4 298.7,44.4 299.5,44.4 300.3,44.4 301.1,44.4 301.9,44.4 302.7,44.4 303.5,44.4 304.3,44.4 305.1,44.3 305.9,44.3 306.7,44.3 307.5,44.3 308.3,44.3 309.1,44.3 309.9,44.3 310.7,44.3 311.5,44.3 312.3,44.3 313.1,44.3 313.9,44.3 314.7,44.3 315.5,44.2 316.3,44.2 317.1,44.2 317.9,44.2 318.7,44.2 319.5,44.2 320.3,44.2 321.1,44.2 321.9,44.2 322.7,44.2 323.5,44.2 324.3,44.2 325.1,44.2 325.9,44.1 326.7,44.1 327.5,44.1 328.3,44.1 329.1,44.1 329.9,44.1 330.7,44.1 331.5,44.1 332.3,44.1 333.1,44.1 333.9,44.1 334.7,44.1 335.5,44.1 336.3,44 337.1,44 337.9,44 338.7,44 339.5,44 340.3,44 341.1,44 341.9,44 342.8,44 343.6,44 344.4,44 345.2,44 346,44 346.8,44 347.6,43.9 348.4,43.9 349.2,43.9 350,43.9 350.8,43.9 351.6,43.9 352.4,43.9 353.2,43.9 354,43.9 354.8,43.9 355.6,43.9 356.4,43.9 357.2,43.9 358,43.8 358.8,43.8 359.6,43.8 360.4,43.8 361.2,43.8 362,43.8 362.8,43.8 363.6,43.8 364.4,43.8 365.2,43.8 366,43.8 366.8,43.8 367.6,43.8 368.4,43.7 369.2,43.7 370,43.7 370.8,43.7 371.6,43.7 372.4,43.7 373.2,43.7 374,43.7 374.8,43.7 375.6,43.7 376.4,43.7 377.2,43.7 378,43.7 378.8,43.6 379.6,43.6 380.4,43.6 381.2,43.6 382,43.6 382.8,43.6 383.6,43.6 384.4,43.6 385.2,43.6 386,43.6 386.8,43.6 387.6,43.6 388.4,43.6 389.2,43.5 390,43.5 390.8,43.5 391.6,43.5 392.4,43.5 393.2,43.5 394,43.5 394.8,43.5 395.6,43.5 396.4,43.5 397.2,43.5 398,43.5 398.8,43.5 399.6,43.4 400.4,43.4 401.2,43.4 402,43.4 402.8,43.4 403.6,43.4 404.4,43.4 405.2,43.4 406,43.4 406.8,43.4 407.6,43.4 408.4,43.4 409.2,43.3 410,43.3 410.8,43.3 411.6,43.3 412.4,43.3 413.2,43.3 414,43.3 414.8,43.3 415.7,43.3 416.5,43.3 417.3,43.3 418.1,43.3 418.9,43.2 419.7,43.2 420.5,43.2 421.3,43.2 422.1,43.2 422.9,43.2 423.7,43.2 424.5,43.2 425.3,43.2 426.1,43.2 426.9,43.2 427.7,43.2 428.5,43.1 429.3,43.1 430.1,43.1 430.9,43.1 431.7,43.1 432.5,43.1 433.3,43.1 434.1,43.1 434.9,43.1 435.7,43.1 436.5,43.1 437.3,43 438.1,43 438.9,43 439.7,43 440.5,43 441.3,43 442.1,43 442.9,43 443.7,43 444.5,43 445.3,43 446.1,42.9 446.9,42.9 447.7,42.9 448.5,42.9 449.3,42.9 450.1,42.9 450.9,42.9 451.7,42.9 452.5,42.9 453.3,42.9 454.1,42.9 454.9,42.8 455.7,42.8 456.5,42.8 457.3,42.8 458.1,42.8 458.9,42.8 459.7,42.8 460.5,42.8 461.3,42.8 462.1,42.8 462.9,42.7 463.7,42.7 464.5,42.7 465.3,42.7 466.1,42.7 466.9,42.7 467.7,42.7 468.5,42.7 469.3,42.7 470.1,42.7 470.9,42.7 471.7,42.6 472.5,42.6 473.3,42.6 474.1,42.6 474.9,42.6 475.7,42.6 476.5,42.6 477.3,42.6 478.1,42.6 478.9,42.5 479.7,42.5 480.5,42.5 481.3,42.5 482.1,42.5 482.9,42.5 483.7,42.5 484.5,42.5 485.3,42.5 486.1,42.5 486.9,42.4 487.7,42.4 488.6,42.4 489.4,42.4 490.2,42.4 491,42.4 491.8,42.4 492.6,42.4 493.4,42.4 494.2,42.3 495,42.3 495.8,42.3 496.6,42.3 497.4,42.3 498.2,42.3 499,42.3 499.8,42.3 500.6,42.3 501.4,42.2 502.2,42.2 503,42.2 503.8,42.2 504.6,42.2 505.4,42.2 506.2,42.2 507,42.2 507.8,42.2 508.6,42.1 509.4,42.1 510.2,42.1 511,42.1 511.8,42.1 512.6,42.1 513.4,42.1 514.2,42.1 515,42 515.8,42 516.6,42 517.4,42 518.2,42 519,42 519.8,42 520.6,42 521.4,41.9 522.2,41.9 523,41.9 523.8,41.9 524.6,41.9 525.4,41.9 526.2,41.9 527,41.9 527.8,41.8 528.6,41.8 529.4,41.8 530.2,41.8 531,41.8" stroke="#8a1e9a"/>
<path d="M76,336.7 L76.8,336.7 77.6,336.7 78.4,336.6 79.2,336.5 80,336.4 80.8,336.2 81.6,336.1 82.3,335.8 83.1,335.6 83.9,335.3 84.6,335 85.3,334.7 86,334.4 86.7,334 87.4,333.6 88.1,333.1 88.8,332.7 89.4,332.2 90,331.7 90.6,331.1 91.2,330.6 91.8,330 92.3,329.4 92.9,328.9 93.4,328.2 93.9,327.6 94.4,327 94.8,326.3 95.3,325.7 95.7,325 96.2,324.3 96.6,323.6 97,323 97.4,322.3 97.8,321.6 98.2,320.8 98.5,320.1 98.9,319.4 99.2,318.7 99.6,318 99.9,317.2 100.2,316.5 100.5,315.8 100.8,315 101.1,314.3 101.4,313.5 101.7,312.8 101.9,312 102.2,311.3 102.5,310.5 102.7,309.7 103,309 103.2,308.2 103.4,307.4 103.6,306.7 103.9,305.9 104.1,305.1 104.3,304.4 104.5,303.6 104.7,302.8 104.9,302 105.1,301.3 105.3,300.5 105.5,299.7 105.6,298.9 105.8,298.1 106,297.4 106.2,296.6 106.3,295.8 106.5,295 106.7,294.2 106.8,293.4 107,292.7 107.2,291.9 107.3,291.1 107.5,290.3 107.7,289.5 107.8,288.7 108,288 108.2,287.2 108.3,286.4 108.5,285.6 108.7,284.8 108.8,284 109,283.2 109.1,282.5 109.3,281.7 109.5,280.9 109.6,280.1 109.8,279.3 110,278.5 110.1,277.8 110.3,277 110.5,276.2 110.6,275.4 110.8,274.6 111,273.8 111.1,273.1 111.3,272.3 111.4,271.5 111.6,270.7 111.8,269.9 111.9,269.1 112.1,268.3 112.3,267.6 112.4,266.8 112.6,266 112.8,265.2 112.9,264.4 113.1,263.6 113.3,262.9 113.4,262.1 113.6,261.3 113.7,260.5 113.9,259.7 114.1,258.9 114.2,258.2 114.4,257.4 114.6,256.6 114.7,255.8 114.9,255 115.1,254.2 115.2,253.4 115.4,252.7 115.5,251.9 115.7,251.1 115.9,250.3 116,249.5 116.2,248.7 116.4,248 116.5,247.2 116.7,246.4 116.8,245.6 117,244.8 117.2,244 117.3,243.3 117.5,242.5 117.7,241.7 117.8,240.9 118,240.1 118.2,239.3 118.3,238.5 118.5,237.8 118.6,237 118.8,236.2 119,235.4 119.1,234.6 119.3,233.8 119.4,233.1 119.6,232.3 119.8,231.5 119.9,230.7 120.1,229.9 120.3,229.1 120.4,228.3 120.6,227.6 120.7,226.8 120.9,226 121.1,225.2 121.2,224.4 121.4,223.6 121.5,222.8 121.7,222.1 121.9,221.3 122,220.5 122.2,219.7 122.3,218.9 122.5,218.1 122.7,217.4 122.8,216.6 123,215.8 123.1,215 123.3,214.2 123.4,213.4 123.6,212.6 123.8,211.9 123.9,211.1 124.1,210.3 124.2,209.5 124.4,208.7 124.5,207.9 124.7,207.1 124.9,206.4 125,205.6 125.2,204.8 125.3,204 125.5,203.2 125.6,202.4 125.8,201.6 125.9,200.9 126.1,200.1 126.3,199.3 126.4,198.5 126.6,197.7 126.7,196.9 126.9,196.1 127,195.3 127.2,194.6 127.3,193.8 127.5,193 127.6,192.2 127.8,191.4 128,190.6 128.1,189.8 128.3,189.1 128.4,188.3 128.6,187.5 128.7,186.7 128.9,185.9 129,185.1 129.2,184.3 129.4,183.6 129.5,182.8 129.7,182 129.8,181.2 130,180.4 130.1,179.6 130.3,178.8 130.5,178.1 130.6,177.3 130.8,176.5 130.9,175.7 131.1,174.9 131.3,174.1 131.4,173.4 131.6,172.6 131.8,171.8 131.9,171 132.1,170.2 132.3,169.4 132.4,168.7 132.6,167.9 132.8,167.1 133,166.3 133.1,165.5 133.3,164.7 133.5,164 133.7,163.2 133.8,162.4 134,161.6 134.2,160.8 134.4,160.1 134.5,159.3 134.7,158.5 134.9,157.7 135.1,156.9 135.3,156.2 135.5,155.4 135.7,154.6 135.9,153.8 136.1,153 136.2,152.3 136.4,151.5 136.6,150.7 136.8,149.9 137,149.2 137.2,148.4 137.4,147.6 137.7,146.8 137.9,146.1 138.1,145.3 138.3,144.5 138.5,143.7 138.7,143 138.9,142.2 139.1,141.4 139.4,140.7 139.6,139.9 139.8,139.1 140,138.3 140.3,137.6 140.5,136.8 140.7,136 141,135.3 141.2,134.5 141.4,133.7 141.7,133 141.9,132.2 142.2,131.5 142.4,130.7 142.7,129.9 142.9,129.2 143.2,128.4 143.4,127.7 143.7,126.9 144,126.1 144.2,125.4 144.5,124.6 144.8,123.9 145,123.1 145.3,122.4 145.6,121.6 145.9,120.9 146.1,120.1 146.4,119.4 146.7,118.6 147,117.9 147.3,117.1 147.6,116.4 147.9,115.6 148.2,114.9 148.5,114.2 148.8,113.4 149.1,112.7 149.4,111.9 149.7,111.2 150,110.5 150.4,109.7 150.7,109 151,108.3 151.3,107.5 151.6,106.8 152,106.1 152.3,105.3 152.6,104.6 152.9,103.9 153.3,103.1 153.6,102.4 153.9,101.7 154.2,100.9 154.6,100.2 154.9,99.5 155.2,98.7 155.5,98 155.9,97.3 156.2,96.5 156.5,95.8 156.8,95.1 157.2,94.3 157.5,93.6 157.8,92.9 158.1,92.1 158.5,91.4 158.8,90.7 159.1,89.9 159.4,89.2 159.7,88.5 160.1,87.7 160.4,87 160.7,86.3 161,85.5 161.3,84.8 161.6,84 161.9,83.3 162.2,82.6 162.5,81.8 162.8,81.1 163.1,80.3 163.4,79.6 163.7,78.9 164.1,78.1 164.4,77.4 164.7,76.6 165,75.9 165.3,75.2 165.7,74.4 166,73.7 166.3,73 166.7,72.3 167,71.5 167.4,70.8 167.7,70.1 168.1,69.4 168.5,68.7 168.9,68 169.2,67.3 169.6,66.6 170.1,65.9 170.5,65.2 170.9,64.5 171.4,63.9 171.8,63.2 172.3,62.6 172.8,61.9 173.2,61.3 173.7,60.7 174.3,60.1 174.8,59.4 175.3,58.9 175.9,58.3 176.4,57.7 177,57.2 177.6,56.6 178.2,56.1 178.8,55.6 179.5,55.1 180.1,54.6 180.7,54.1 181.4,53.7 182.1,53.2 182.7,52.8 183.4,52.4 184.1,52 184.8,51.6 185.6,51.3 186.3,50.9 187,50.6 187.8,50.3 188.5,50 189.3,49.8 190,49.5 190.8,49.3 191.6,49.1 192.4,48.9 193.1,48.7 193.9,48.6 194.7,48.4 195.5,48.3 196.3,48.1 197.1,48 197.9,47.9 198.7,47.8 199.5,47.7 200.3,47.6 201.1,47.5 201.8,47.4 202.6,47.3 203.4,47.2 204.2,47.2 205,47.1 205.8,47 206.6,47 207.4,46.9 208.2,46.8 209,46.8 209.8,46.7 210.6,46.7 211.4,46.6 212.2,46.6 213,46.6 213.8,46.5 214.6,46.5 215.4,46.4 216.2,46.4 217,46.4 217.8,46.3 218.6,46.3 219.4,46.3 220.2,46.2 221,46.2 221.8,46.1 222.6,46.1 223.4,46.1 224.2,46 225,46 225.8,45.9 226.6,45.9 227.4,45.9 228.2,45.8 229,45.8 229.8,45.7 230.6,45.6 231.4,45.6 232.2,45.5 233,45.5 233.8,45.4 234.6,45.4 235.4,45.3 236.2,45.3 237,45.2 237.8,45.1 238.6,45.1 239.4,45 240.2,45 241,44.9 241.8,44.9 242.6,44.8 243.4,44.8 244.2,44.7 245,44.7 245.8,44.6 246.6,44.6 247.4,44.5 248.2,44.5 249,44.4 249.8,44.4 250.6,44.3 251.4,44.3 252.2,44.2 253,44.2 253.8,44.2 254.6,44.1 255.4,44.1 256.2,44.1 257,44 257.8,44 258.6,44 259.4,43.9 260.2,43.9 261,43.9 261.8,43.9 262.6,43.8 263.4,43.8 264.2,43.8 265,43.8 265.8,43.7 266.6,43.7 267.4,43.7 268.2,43.7 269,43.7 269.8,43.6 270.6,43.6 271.4,43.6 272.2,43.6 273,43.6 273.8,43.6 274.6,43.5 275.4,43.5 276.2,43.5 277,43.5 277.8,43.5 278.6,43.5 279.4,43.5 280.2,43.5 281.1,43.4 281.9,43.4 282.7,43.4 283.5,43.4 284.3,43.4 285.1,43.4 285.9,43.4 286.7,43.4 287.5,43.4 288.3,43.3 289.1,43.3 289.9,43.3 290.7,43.3 291.5,43.3 292.3,43.3 293.1,43.3 293.9,43.3 294.7,43.3 295.5,43.3 296.3,43.2 297.1,43.2 297.9,43.2 298.7,43.2 299.5,43.2 300.3,43.2 301.1,43.2 301.9,43.2 302.7,43.2 303.5,43.1 304.3,43.1 305.1,43.1 305.9,43.1 306.7,43.1 307.5,43.1 308.3,43.1 309.1,43.1 309.9,43.1 310.7,43 311.5,43 312.3,43 313.1,43 313.9,43 314.7,43 315.5,43 316.3,43 317.1,43 317.9,42.9 318.7,42.9 319.5,42.9 320.3,42.9 321.1,42.9 321.9,42.9 322.7,42.9 323.5,42.9 324.3,42.8 325.1,42.8 325.9,42.8 326.7,42.8 327.5,42.8 328.3,42.8 329.1,42.8 329.9,42.8 330.7,42.7 331.5,42.7 332.3,42.7 333.1,42.7 333.9,42.7 334.7,42.7 335.5,42.7 336.3,42.7 337.1,42.6 337.9,42.6 338.7,42.6 339.5,42.6 340.3,42.6 341.1,42.6 341.9,42.6 342.7,42.6 343.5,42.5 344.3,42.5 345.1,42.5 345.9,42.5 346.7,42.5 347.5,42.5 348.3,42.5 349.1,42.4 349.9,42.4 350.7,42.4 351.5,42.4 352.4,42.4 353.2,42.4 354,42.4 354.8,42.4 355.6,42.3 356.4,42.3 357.2,42.3 358,42.3 358.8,42.3 359.6,42.3 360.4,42.3 361.2,42.2 362,42.2 362.8,42.2 363.6,42.2 364.4,42.2 365.2,42.2 366,42.2 366.8,42.2 367.6,42.1 368.4,42.1 369.2,42.1 370,42.1 370.8,42.1 371.6,42.1 372.4,42.1 373.2,42 374,42 374.8,42 375.6,42 376.4,42 377.2,42 378,42 378.8,41.9 379.6,41.9 380.4,41.9 381.2,41.9 382,41.9 382.8,41.9 383.6,41.9 384.4,41.8 385.2,41.8 386,41.8 386.8,41.8 387.6,41.8 388.4,41.8 389.2,41.8 390,41.8 390.8,41.7 391.6,41.7 392.4,41.7 393.2,41.7 394,41.7 394.8,41.7 395.6,41.7 396.4,41.6 397.2,41.6 398,41.6 398.8,41.6 399.6,41.6 400.4,41.6 401.2,41.6 402,41.5 402.8,41.5 403.6,41.5 404.4,41.5 405.2,41.5 406,41.5 406.8,41.5 407.6,41.4 408.4,41.4 409.2,41.4 410,41.4 410.8,41.4 411.6,41.4 412.4,41.4 413.2,41.4 414,41.3 414.8,41.3 415.6,41.3 416.4,41.3 417.2,41.3 418,41.3 418.8,41.3 419.6,41.2 420.4,41.2 421.2,41.2 422,41.2 422.8,41.2 423.6,41.2 424.4,41.2 425.2,41.2 426.1,41.1 426.9,41.1 427.7,41.1 428.5,41.1 429.3,41.1 430.1,41.1 430.9,41.1 431.7,41.1 432.5,41 433.3,41 434.1,41 434.9,41 435.7,41 436.5,41 437.3,41 438.1,41 438.9,40.9 439.7,40.9 440.5,40.9 441.3,40.9 442.1,40.9 442.9,40.9 443.7,40.9 444.5,40.9 445.3,40.8 446.1,40.8 446.9,40.8 447.7,40.8 448.5,40.8 449.3,40.8 450.1,40.8 450.9,40.8 451.7,40.8 452.5,40.7 453.3,40.7 454.1,40.7 454.9,40.7 455.7,40.7 456.5,40.7 457.3,40.7 458.1,40.7 458.9,40.7 459.7,40.6 460.5,40.6 461.3,40.6 462.1,40.6 462.9,40.6 463.7,40.6 464.5,40.6 465.3,40.6 466.1,40.6 466.9,40.6 467.7,40.5 468.5,40.5 469.3,40.5 470.1,40.5 470.9,40.5 471.7,40.5 472.5,40.5 473.3,40.5 474.1,40.5 474.9,40.5 475.7,40.4 476.5,40.4 477.3,40.4 478.1,40.4 478.9,40.4 479.7,40.4 480.5,40.4 481.3,40.4 482.1,40.4 482.9,40.4 483.7,40.4 484.5,40.3 485.3,40.3 486.1,40.3 486.9,40.3 487.7,40.3 488.5,40.3 489.3,40.3 490.1,40.3 490.9,40.3 491.7,40.3 492.5,40.3 493.3,40.3 494.1,40.2 494.9,40.2 495.7,40.2 496.6,40.2 497.4,40.2 498.2,40.2 499,40.2 499.8,40.2 500.6,40.2 501.4,40.2 502.2,40.2 503,40.2 503.8,40.2 504.6,40.2 505.4,40.1 506.2,40.1 507,40.1 507.8,40.1 508.6,40.1 509.4,40.1 510.2,40.1 511,40.1 511.8,40.1 512.6,40.1 513.4,40.1 514.2,40.1 515,40.1 515.8,40.1 516.6,40.1 517.4,40.1 518.2,40.1 519,40.1 519.8,40 520.6,40 521.4,40 522.2,40 523,40 523.8,40 524.6,40 525.4,40 526.2,40 527,40 527.8,40 528.6,40 529.4,40 530.2,40 531,40" stroke="#18881e"/>
</g>
<rect x="76.3" y="13.4" width="454.7" height="326.9" fill="none" stroke="#000" stroke-width="1.8"/>
<text x="67" y="346.7" font-size="18.2" text-anchor="end">0</text>
<text x="67" y="281.3" font-size="18.2" text-anchor="end">20</text>
<text x="67" y="215.9" font-size="18.2" text-anchor="end">40</text>
<text x="67" y="150.6" font-size="18.2" text-anchor="end">60</text>
<text x="67" y="85.2" font-size="18.2" text-anchor="end">80</text>
<text x="67" y="19.8" font-size="18.2" text-anchor="end">100</text>
<text x="117.6" y="366.4" font-size="18.4" text-anchor="middle">300</text>
<text x="200.3" y="366.4" font-size="18.4" text-anchor="middle">400</text>
<text x="283" y="366.4" font-size="18.4" text-anchor="middle">500</text>
<text x="365.7" y="366.4" font-size="18.4" text-anchor="middle">600</text>
<text x="448.3" y="366.4" font-size="18.4" text-anchor="middle">700</text>
<text x="531" y="366.4" font-size="18.4" text-anchor="middle">800</text>
<text x="303.5" y="400.4" font-size="20.5" text-anchor="middle">Wavelength (nm)</text>
<text transform="translate(22.3,177.3) rotate(-90)" font-size="20.7" text-anchor="middle">Transmittance (%)</text>
<rect x="249.4" y="77.8" width="281.6" height="204.5" fill="#fff"/>
<path d="M323.5,80.5 V282.3 M397.5,80.5 V282.3 M471.5,80.5 V282.3 M250.4,248.5 H531 M250.4,214.5 H531 M250.4,180.5 H531 M250.4,147.5 H531 M250.4,113.5 H531" stroke="#9a9a9a" stroke-width="1" stroke-dasharray="1.2 2.1" fill="none"/>
<g clip-path="url(#ci)" fill="none" stroke-width="1.9" stroke-linejoin="round" stroke-linecap="round">
<path d="M246.4,217.7 L247.2,217.5 247.9,217.3 248.7,217.1 249.5,216.9 250.3,216.7 251,216.5 251.8,216.3 252.6,216.1 253.4,215.9 254.1,215.7 254.9,215.5 255.7,215.3 256.5,215.1 257.2,214.9 258,214.7 258.8,214.4 259.6,214.2 260.3,214 261.1,213.8 261.9,213.6 262.7,213.4 263.4,213.2 264.2,213 265,212.8 265.8,212.6 266.6,212.4 267.3,212.2 268.1,212 268.9,211.8 269.7,211.6 270.4,211.4 271.2,211.2 272,211 272.8,210.8 273.5,210.6 274.3,210.4 275.1,210.2 275.9,210 276.7,209.8 277.4,209.7 278.2,209.5 279,209.3 279.8,209.1 280.5,208.9 281.3,208.7 282.1,208.5 282.9,208.3 283.7,208.1 284.4,207.9 285.2,207.7 286,207.5 286.8,207.3 287.6,207.1 288.3,206.9 289.1,206.7 289.9,206.5 290.7,206.4 291.5,206.2 292.2,206 293,205.8 293.8,205.6 294.6,205.4 295.3,205.2 296.1,205 296.9,204.8 297.7,204.6 298.5,204.5 299.2,204.3 300,204.1 300.8,203.9 301.6,203.7 302.4,203.5 303.1,203.3 303.9,203.1 304.7,203 305.5,202.8 306.3,202.6 307,202.4 307.8,202.2 308.6,202 309.4,201.8 310.2,201.7 311,201.5 311.7,201.3 312.5,201.1 313.3,200.9 314.1,200.7 314.9,200.6 315.6,200.4 316.4,200.2 317.2,200 318,199.8 318.8,199.6 319.5,199.5 320.3,199.3 321.1,199.1 321.9,198.9 322.7,198.7 323.5,198.6 324.2,198.4 325,198.2 325.8,198 326.6,197.9 327.4,197.7 328.2,197.5 328.9,197.3 329.7,197.2 330.5,197 331.3,196.8 332.1,196.6 332.9,196.5 333.6,196.3 334.4,196.1 335.2,195.9 336,195.8 336.8,195.6 337.6,195.4 338.3,195.3 339.1,195.1 339.9,194.9 340.7,194.8 341.5,194.6 342.3,194.4 343,194.3 343.8,194.1 344.6,193.9 345.4,193.8 346.2,193.6 347,193.4 347.8,193.3 348.5,193.1 349.3,193 350.1,192.8 350.9,192.6 351.7,192.5 352.5,192.3 353.3,192.2 354,192 354.8,191.8 355.6,191.7 356.4,191.5 357.2,191.4 358,191.2 358.8,191.1 359.6,190.9 360.3,190.8 361.1,190.6 361.9,190.5 362.7,190.3 363.5,190.2 364.3,190 365.1,189.9 365.9,189.7 366.7,189.6 367.4,189.4 368.2,189.3 369,189.2 369.8,189 370.6,188.9 371.4,188.7 372.2,188.6 373,188.4 373.8,188.3 374.6,188.2 375.3,188 376.1,187.9 376.9,187.8 377.7,187.6 378.5,187.5 379.3,187.4 380.1,187.2 380.9,187.1 381.7,187 382.5,186.8 383.3,186.7 384,186.6 384.8,186.4 385.6,186.3 386.4,186.2 387.2,186.1 388,185.9 388.8,185.8 389.6,185.7 390.4,185.6 391.2,185.4 392,185.3 392.8,185.2 393.6,185.1 394.4,185 395.1,184.8 395.9,184.7 396.7,184.6 397.5,184.5 398.3,184.4 399.1,184.2 399.9,184.1 400.7,184 401.5,183.9 402.3,183.8 403.1,183.7 403.9,183.6 404.7,183.4 405.5,183.3 406.3,183.2 407.1,183.1 407.8,183 408.6,182.9 409.4,182.8 410.2,182.6 411,182.5 411.8,182.4 412.6,182.3 413.4,182.2 414.2,182.1 415,182 415.8,181.9 416.6,181.8 417.4,181.7 418.2,181.6 419,181.4 419.8,181.3 420.6,181.2 421.4,181.1 422.2,181 423,180.9 423.7,180.8 424.5,180.7 425.3,180.6 426.1,180.5 426.9,180.4 427.7,180.3 428.5,180.2 429.3,180.1 430.1,180 430.9,179.9 431.7,179.8 432.5,179.7 433.3,179.6 434.1,179.5 434.9,179.4 435.7,179.3 436.5,179.2 437.3,179 438.1,178.9 438.9,178.8 439.7,178.7 440.5,178.6 441.3,178.5 442,178.4 442.8,178.3 443.6,178.2 444.4,178.1 445.2,178 446,177.9 446.8,177.8 447.6,177.7 448.4,177.6 449.2,177.5 450,177.4 450.8,177.3 451.6,177.2 452.4,177.1 453.2,177 454,176.9 454.8,176.8 455.6,176.7 456.4,176.6 457.2,176.5 458,176.4 458.8,176.3 459.6,176.2 460.4,176.1 461.1,176 461.9,175.9 462.7,175.8 463.5,175.7 464.3,175.6 465.1,175.5 465.9,175.4 466.7,175.3 467.5,175.2 468.3,175.1 469.1,175 469.9,174.9 470.7,174.8 471.5,174.7 472.3,174.6 473.1,174.5 473.9,174.4 474.7,174.2 475.5,174.1 476.3,174 477.1,173.9 477.9,173.8 478.7,173.7 479.4,173.6 480.2,173.5 481,173.4 481.8,173.3 482.6,173.2 483.4,173.1 484.2,173 485,172.9 485.8,172.8 486.6,172.7 487.4,172.6 488.2,172.5 489,172.4 489.8,172.3 490.6,172.2 491.4,172.1 492.2,172 493,171.9 493.8,171.8 494.6,171.7 495.4,171.6 496.2,171.5 497,171.4 497.7,171.3 498.5,171.1 499.3,171 500.1,170.9 500.9,170.8 501.7,170.7 502.5,170.6 503.3,170.5 504.1,170.4 504.9,170.3 505.7,170.2 506.5,170.1 507.3,170 508.1,169.9 508.9,169.8 509.7,169.7 510.5,169.6 511.3,169.5 512.1,169.4 512.9,169.3 513.7,169.2 514.5,169.1 515.3,169 516.1,168.9 516.9,168.8 517.6,168.7 518.4,168.6 519.2,168.5 520,168.4 520.8,168.3 521.6,168.2 522.4,168.1 523.2,168 524,167.9 524.8,167.8 525.6,167.7 526.4,167.6 527.2,167.5 528,167.5 528.8,167.4 529.6,167.3 530.4,167.2 531.2,167.1 532,167" stroke="#000000"/>
<path d="M246.4,200.6 L247.2,200.3 247.9,200.1 248.7,199.9 249.5,199.6 250.3,199.4 251,199.2 251.8,199 252.6,198.8 253.4,198.6 254.1,198.4 254.9,198.2 255.7,198 256.5,197.8 257.3,197.6 258,197.4 258.8,197.3 259.6,197.1 260.4,196.9 261.2,196.7 262,196.6 262.8,196.4 263.6,196.3 264.3,196.1 265.1,196 265.9,195.8 266.7,195.7 267.5,195.5 268.3,195.4 269.1,195.3 269.9,195.1 270.7,195 271.5,194.9 272.3,194.8 273.1,194.6 273.9,194.5 274.7,194.4 275.4,194.3 276.2,194.2 277,194.1 277.8,194 278.6,193.9 279.4,193.8 280.2,193.7 281,193.6 281.8,193.5 282.6,193.4 283.4,193.3 284.2,193.2 285,193.1 285.8,193 286.6,192.9 287.4,192.8 288.2,192.7 289,192.6 289.8,192.5 290.6,192.5 291.4,192.4 292.2,192.3 293,192.2 293.8,192.1 294.6,192 295.4,191.9 296.2,191.8 297,191.7 297.8,191.6 298.6,191.6 299.4,191.5 300.2,191.4 301,191.3 301.8,191.2 302.6,191.1 303.4,191 304.2,190.9 305,190.8 305.8,190.7 306.6,190.6 307.4,190.5 308.2,190.3 309,190.2 309.8,190.1 310.5,190 311.3,189.9 312.1,189.8 312.9,189.7 313.7,189.5 314.5,189.4 315.3,189.3 316.1,189.2 316.9,189.1 317.7,188.9 318.5,188.8 319.3,188.7 320.1,188.5 320.9,188.4 321.7,188.3 322.5,188.2 323.3,188 324,187.9 324.8,187.8 325.6,187.6 326.4,187.5 327.2,187.3 328,187.2 328.8,187.1 329.6,186.9 330.4,186.8 331.2,186.6 332,186.5 332.8,186.4 333.5,186.2 334.3,186.1 335.1,185.9 335.9,185.8 336.7,185.7 337.5,185.5 338.3,185.4 339.1,185.2 339.9,185.1 340.7,184.9 341.5,184.8 342.2,184.6 343,184.5 343.8,184.4 344.6,184.2 345.4,184.1 346.2,183.9 347,183.8 347.8,183.6 348.6,183.5 349.4,183.3 350.2,183.2 350.9,183.1 351.7,182.9 352.5,182.8 353.3,182.6 354.1,182.5 354.9,182.3 355.7,182.2 356.5,182.1 357.3,181.9 358.1,181.8 358.9,181.6 359.6,181.5 360.4,181.4 361.2,181.2 362,181.1 362.8,181 363.6,180.8 364.4,180.7 365.2,180.6 366,180.4 366.8,180.3 367.6,180.2 368.4,180 369.2,179.9 370,179.8 370.7,179.7 371.5,179.5 372.3,179.4 373.1,179.3 373.9,179.2 374.7,179 375.5,178.9 376.3,178.8 377.1,178.7 377.9,178.6 378.7,178.5 379.5,178.3 380.3,178.2 381.1,178.1 381.9,178 382.7,177.9 383.5,177.8 384.3,177.7 385.1,177.6 385.9,177.5 386.7,177.3 387.5,177.2 388.3,177.1 389,177 389.8,176.9 390.6,176.8 391.4,176.7 392.2,176.6 393,176.5 393.8,176.4 394.6,176.3 395.4,176.2 396.2,176.1 397,176 397.8,175.9 398.6,175.8 399.4,175.7 400.2,175.6 401,175.6 401.8,175.5 402.6,175.4 403.4,175.3 404.2,175.2 405,175.1 405.8,175 406.6,174.9 407.4,174.8 408.2,174.7 409,174.6 409.8,174.6 410.6,174.5 411.4,174.4 412.2,174.3 413,174.2 413.8,174.1 414.6,174 415.4,173.9 416.2,173.9 417,173.8 417.8,173.7 418.6,173.6 419.4,173.5 420.2,173.4 421,173.3 421.8,173.3 422.6,173.2 423.4,173.1 424.2,173 425,172.9 425.8,172.8 426.6,172.8 427.4,172.7 428.2,172.6 429,172.5 429.8,172.4 430.6,172.3 431.4,172.3 432.2,172.2 433,172.1 433.8,172 434.6,171.9 435.4,171.9 436.2,171.8 437,171.7 437.8,171.6 438.6,171.5 439.4,171.4 440.2,171.4 441,171.3 441.8,171.2 442.6,171.1 443.4,171 444.2,170.9 445,170.9 445.8,170.8 446.6,170.7 447.4,170.6 448.2,170.5 449,170.4 449.8,170.3 450.6,170.3 451.4,170.2 452.2,170.1 453,170 453.8,169.9 454.6,169.8 455.4,169.7 456.2,169.6 457,169.6 457.8,169.5 458.6,169.4 459.4,169.3 460.2,169.2 460.9,169.1 461.7,169 462.5,168.9 463.3,168.8 464.1,168.7 464.9,168.6 465.7,168.5 466.5,168.4 467.3,168.3 468.1,168.3 468.9,168.2 469.7,168.1 470.5,168 471.3,167.9 472.1,167.8 472.9,167.7 473.7,167.6 474.5,167.5 475.3,167.4 476.1,167.3 476.9,167.2 477.7,167.1 478.5,167 479.3,166.9 480.1,166.8 480.9,166.7 481.7,166.6 482.5,166.5 483.3,166.4 484.1,166.3 484.9,166.2 485.7,166.1 486.5,166 487.3,165.9 488.1,165.8 488.9,165.7 489.7,165.6 490.5,165.5 491.3,165.4 492.1,165.3 492.9,165.2 493.7,165.1 494.5,165 495.3,164.9 496.1,164.8 496.9,164.7 497.7,164.6 498.4,164.5 499.2,164.4 500,164.3 500.8,164.2 501.6,164.1 502.4,164 503.2,163.9 504,163.8 504.8,163.8 505.6,163.7 506.4,163.6 507.2,163.5 508,163.4 508.8,163.3 509.6,163.2 510.4,163.1 511.2,163 512,162.9 512.8,162.8 513.6,162.7 514.4,162.6 515.2,162.5 516,162.5 516.8,162.4 517.6,162.3 518.4,162.2 519.2,162.1 520,162 520.8,161.9 521.6,161.8 522.4,161.8 523.2,161.7 524,161.6 524.8,161.5 525.6,161.4 526.4,161.3 527.2,161.3 528,161.2 528.8,161.1 529.6,161 530.4,160.9 531.2,160.9 532,160.8" stroke="#ff1010"/>
<path d="M246.4,178.7 L247.2,178.5 248,178.4 248.8,178.3 249.6,178.1 250.3,178 251.1,177.9 251.9,177.8 252.7,177.7 253.5,177.5 254.3,177.4 255.1,177.3 255.9,177.2 256.7,177.1 257.5,177 258.3,176.9 259.1,176.8 259.9,176.7 260.7,176.6 261.5,176.5 262.3,176.4 263.1,176.3 263.9,176.2 264.7,176.1 265.5,176 266.3,175.9 267.1,175.8 267.9,175.7 268.7,175.6 269.4,175.5 270.2,175.5 271,175.4 271.8,175.3 272.6,175.2 273.4,175.1 274.2,175 275,175 275.8,174.9 276.6,174.8 277.4,174.7 278.2,174.7 279,174.6 279.8,174.5 280.6,174.4 281.4,174.4 282.2,174.3 283,174.2 283.8,174.1 284.6,174.1 285.4,174 286.2,173.9 287,173.8 287.8,173.8 288.6,173.7 289.4,173.6 290.2,173.6 291,173.5 291.8,173.4 292.6,173.4 293.4,173.3 294.2,173.2 295,173.2 295.8,173.1 296.6,173 297.4,173 298.2,172.9 299,172.8 299.8,172.7 300.6,172.7 301.4,172.6 302.2,172.5 303,172.5 303.8,172.4 304.6,172.3 305.4,172.3 306.2,172.2 307,172.1 307.8,172.1 308.6,172 309.4,171.9 310.2,171.9 311,171.8 311.8,171.7 312.6,171.7 313.4,171.6 314.2,171.5 315,171.5 315.8,171.4 316.6,171.3 317.4,171.3 318.2,171.2 319,171.1 319.8,171.1 320.6,171 321.4,170.9 322.2,170.9 323,170.8 323.8,170.7 324.6,170.7 325.4,170.6 326.2,170.5 327,170.5 327.8,170.4 328.6,170.4 329.4,170.3 330.2,170.2 331,170.2 331.8,170.1 332.6,170 333.4,170 334.2,169.9 335,169.8 335.8,169.8 336.6,169.7 337.4,169.7 338.2,169.6 339,169.5 339.8,169.5 340.6,169.4 341.4,169.4 342.2,169.3 343,169.2 343.8,169.2 344.6,169.1 345.4,169.1 346.2,169 347,168.9 347.8,168.9 348.6,168.8 349.4,168.8 350.2,168.7 351,168.6 351.8,168.6 352.6,168.5 353.4,168.5 354.2,168.4 355,168.4 355.8,168.3 356.6,168.3 357.4,168.2 358.2,168.1 359,168.1 359.8,168 360.6,168 361.4,167.9 362.2,167.9 363,167.8 363.8,167.8 364.6,167.7 365.4,167.7 366.2,167.6 367,167.6 367.8,167.5 368.6,167.5 369.4,167.4 370.2,167.4 371,167.3 371.8,167.3 372.6,167.2 373.4,167.2 374.2,167.1 375,167.1 375.8,167 376.6,167 377.4,166.9 378.2,166.9 379,166.8 379.8,166.8 380.6,166.7 381.4,166.7 382.2,166.6 383,166.6 383.8,166.6 384.6,166.5 385.4,166.5 386.2,166.4 387,166.4 387.9,166.3 388.7,166.3 389.5,166.2 390.3,166.2 391.1,166.2 391.9,166.1 392.7,166.1 393.5,166 394.3,166 395.1,165.9 395.9,165.9 396.7,165.9 397.5,165.8 398.3,165.8 399.1,165.7 399.9,165.7 400.7,165.7 401.5,165.6 402.3,165.6 403.1,165.5 403.9,165.5 404.7,165.5 405.5,165.4 406.3,165.4 407.1,165.3 407.9,165.3 408.7,165.3 409.5,165.2 410.3,165.2 411.1,165.1 411.9,165.1 412.7,165.1 413.5,165 414.3,165 415.1,165 415.9,164.9 416.7,164.9 417.5,164.8 418.3,164.8 419.1,164.8 419.9,164.7 420.7,164.7 421.5,164.6 422.3,164.6 423.1,164.6 423.9,164.5 424.7,164.5 425.5,164.5 426.3,164.4 427.1,164.4 427.9,164.3 428.7,164.3 429.5,164.3 430.3,164.2 431.1,164.2 431.9,164.2 432.7,164.1 433.5,164.1 434.3,164 435.1,164 435.9,164 436.7,163.9 437.5,163.9 438.3,163.8 439.1,163.8 439.9,163.8 440.8,163.7 441.6,163.7 442.4,163.7 443.2,163.6 444,163.6 444.8,163.5 445.6,163.5 446.4,163.5 447.2,163.4 448,163.4 448.8,163.3 449.6,163.3 450.4,163.3 451.2,163.2 452,163.2 452.8,163.1 453.6,163.1 454.4,163 455.2,163 456,163 456.8,162.9 457.6,162.9 458.4,162.8 459.2,162.8 460,162.8 460.8,162.7 461.6,162.7 462.4,162.6 463.2,162.6 464,162.5 464.8,162.5 465.6,162.4 466.4,162.4 467.2,162.4 468,162.3 468.8,162.3 469.6,162.2 470.4,162.2 471.2,162.1 472,162.1 472.8,162 473.6,162 474.4,161.9 475.2,161.9 476,161.8 476.8,161.8 477.6,161.7 478.4,161.7 479.2,161.6 480,161.6 480.8,161.5 481.6,161.5 482.4,161.4 483.2,161.4 484,161.3 484.8,161.3 485.6,161.2 486.4,161.2 487.2,161.1 488,161.1 488.8,161 489.6,161 490.4,160.9 491.2,160.9 492,160.8 492.8,160.8 493.6,160.7 494.4,160.6 495.2,160.6 496,160.5 496.8,160.5 497.6,160.4 498.4,160.3 499.2,160.3 500,160.2 500.8,160.2 501.6,160.1 502.4,160 503.2,160 504,159.9 504.8,159.9 505.6,159.8 506.4,159.7 507.2,159.7 508,159.6 508.8,159.5 509.6,159.5 510.4,159.4 511.2,159.3 512,159.3 512.8,159.2 513.6,159.1 514.4,159.1 515.2,159 516,158.9 516.8,158.8 517.6,158.8 518.4,158.7 519.2,158.6 520,158.6 520.8,158.5 521.6,158.4 522.4,158.3 523.2,158.3 524,158.2 524.8,158.1 525.6,158 526.4,157.9 527.2,157.9 528,157.8 528.8,157.7 529.6,157.6 530.4,157.5 531.2,157.5 532,157.4" stroke="#1010ff"/>
<path d="M246.4,169.3 L247.2,169.1 248,169 248.8,168.9 249.6,168.8 250.4,168.7 251.2,168.6 252,168.5 252.8,168.4 253.6,168.3 254.4,168.2 255.2,168.1 256,168 256.8,168 257.6,167.9 258.4,167.8 259.2,167.7 260,167.6 260.8,167.6 261.6,167.5 262.4,167.4 263.2,167.4 264,167.3 264.8,167.2 265.6,167.2 266.4,167.1 267.2,167 268,167 268.8,166.9 269.6,166.9 270.4,166.8 271.2,166.8 272,166.7 272.8,166.7 273.6,166.6 274.4,166.6 275.2,166.5 276,166.5 276.8,166.4 277.6,166.4 278.4,166.4 279.2,166.3 280,166.3 280.8,166.2 281.6,166.2 282.4,166.2 283.2,166.1 284,166.1 284.8,166.1 285.7,166 286.5,166 287.3,166 288.1,165.9 288.9,165.9 289.7,165.9 290.5,165.9 291.3,165.8 292.1,165.8 292.9,165.8 293.7,165.7 294.5,165.7 295.3,165.7 296.1,165.7 296.9,165.6 297.7,165.6 298.5,165.6 299.3,165.5 300.1,165.5 300.9,165.5 301.7,165.5 302.5,165.4 303.3,165.4 304.1,165.4 304.9,165.3 305.7,165.3 306.5,165.3 307.3,165.3 308.2,165.2 309,165.2 309.8,165.2 310.6,165.1 311.4,165.1 312.2,165.1 313,165 313.8,165 314.6,165 315.4,164.9 316.2,164.9 317,164.9 317.8,164.8 318.6,164.8 319.4,164.8 320.2,164.7 321,164.7 321.8,164.6 322.6,164.6 323.4,164.6 324.2,164.5 325,164.5 325.8,164.4 326.6,164.4 327.4,164.3 328.2,164.3 329,164.2 329.8,164.2 330.6,164.2 331.4,164.1 332.2,164.1 333,164 333.8,164 334.7,163.9 335.5,163.9 336.3,163.8 337.1,163.7 337.9,163.7 338.7,163.6 339.5,163.6 340.3,163.5 341.1,163.5 341.9,163.4 342.7,163.4 343.5,163.3 344.3,163.3 345.1,163.2 345.9,163.2 346.7,163.1 347.5,163.1 348.3,163 349.1,162.9 349.9,162.9 350.7,162.8 351.5,162.8 352.3,162.7 353.1,162.7 353.9,162.6 354.7,162.6 355.5,162.5 356.3,162.5 357.1,162.4 357.9,162.4 358.7,162.3 359.5,162.2 360.3,162.2 361.1,162.1 361.9,162.1 362.7,162 363.5,162 364.3,162 365.1,161.9 365.9,161.9 366.7,161.8 367.6,161.8 368.4,161.7 369.2,161.7 370,161.6 370.8,161.6 371.6,161.5 372.4,161.5 373.2,161.5 374,161.4 374.8,161.4 375.6,161.3 376.4,161.3 377.2,161.3 378,161.2 378.8,161.2 379.6,161.2 380.4,161.1 381.2,161.1 382,161.1 382.8,161 383.6,161 384.4,161 385.2,160.9 386,160.9 386.8,160.9 387.6,160.9 388.4,160.8 389.2,160.8 390,160.8 390.8,160.7 391.7,160.7 392.5,160.7 393.3,160.7 394.1,160.6 394.9,160.6 395.7,160.6 396.5,160.6 397.3,160.6 398.1,160.5 398.9,160.5 399.7,160.5 400.5,160.5 401.3,160.4 402.1,160.4 402.9,160.4 403.7,160.4 404.5,160.4 405.3,160.3 406.1,160.3 406.9,160.3 407.7,160.3 408.5,160.3 409.3,160.2 410.1,160.2 410.9,160.2 411.7,160.2 412.6,160.2 413.4,160.2 414.2,160.1 415,160.1 415.8,160.1 416.6,160.1 417.4,160.1 418.2,160.1 419,160 419.8,160 420.6,160 421.4,160 422.2,160 423,159.9 423.8,159.9 424.6,159.9 425.4,159.9 426.2,159.9 427,159.9 427.8,159.8 428.6,159.8 429.4,159.8 430.2,159.8 431,159.8 431.8,159.8 432.6,159.7 433.5,159.7 434.3,159.7 435.1,159.7 435.9,159.7 436.7,159.6 437.5,159.6 438.3,159.6 439.1,159.6 439.9,159.6 440.7,159.6 441.5,159.5 442.3,159.5 443.1,159.5 443.9,159.5 444.7,159.4 445.5,159.4 446.3,159.4 447.1,159.4 447.9,159.4 448.7,159.3 449.5,159.3 450.3,159.3 451.1,159.3 451.9,159.2 452.7,159.2 453.5,159.2 454.4,159.2 455.2,159.1 456,159.1 456.8,159.1 457.6,159 458.4,159 459.2,159 460,159 460.8,158.9 461.6,158.9 462.4,158.9 463.2,158.8 464,158.8 464.8,158.8 465.6,158.7 466.4,158.7 467.2,158.7 468,158.6 468.8,158.6 469.6,158.5 470.4,158.5 471.2,158.5 472,158.4 472.8,158.4 473.6,158.3 474.4,158.3 475.2,158.3 476,158.2 476.8,158.2 477.6,158.1 478.5,158.1 479.3,158 480.1,158 480.9,157.9 481.7,157.9 482.5,157.8 483.3,157.8 484.1,157.7 484.9,157.7 485.7,157.6 486.5,157.5 487.3,157.5 488.1,157.4 488.9,157.4 489.7,157.3 490.5,157.3 491.3,157.2 492.1,157.1 492.9,157.1 493.7,157 494.5,156.9 495.3,156.9 496.1,156.8 496.9,156.7 497.7,156.7 498.5,156.6 499.3,156.5 500.1,156.4 500.9,156.4 501.7,156.3 502.5,156.2 503.3,156.1 504.1,156 504.9,156 505.7,155.9 506.5,155.8 507.3,155.7 508.1,155.6 508.9,155.5 509.7,155.4 510.5,155.3 511.3,155.3 512.1,155.2 512.9,155.1 513.7,155 514.5,154.9 515.3,154.8 516.1,154.7 516.9,154.6 517.7,154.5 518.5,154.4 519.3,154.3 520.1,154.1 520.9,154 521.7,153.9 522.5,153.8 523.3,153.7 524,153.6 524.8,153.5 525.6,153.3 526.4,153.2 527.2,153.1 528,153 528.8,152.9 529.6,152.7 530.4,152.6 531.2,152.5 532,152.3" stroke="#8a1e9a"/>
<path d="M246.4,168 L247.1,167.7 247.8,167.4 248.6,167 249.3,166.7 250.1,166.4 250.8,166.1 251.6,165.8 252.3,165.5 253.1,165.3 253.8,165 254.6,164.7 255.3,164.5 256.1,164.2 256.9,164 257.6,163.8 258.4,163.5 259.2,163.3 260,163.1 260.7,162.9 261.5,162.7 262.3,162.5 263.1,162.3 263.8,162.1 264.6,161.9 265.4,161.8 266.2,161.6 267,161.4 267.8,161.3 268.6,161.1 269.3,161 270.1,160.8 270.9,160.7 271.7,160.5 272.5,160.4 273.3,160.3 274.1,160.1 274.9,160 275.7,159.9 276.5,159.8 277.3,159.7 278.1,159.5 278.8,159.4 279.6,159.3 280.4,159.2 281.2,159.1 282,159 282.8,158.9 283.6,158.8 284.4,158.7 285.2,158.6 286,158.5 286.8,158.4 287.6,158.3 288.4,158.2 289.2,158.2 290,158.1 290.8,158 291.6,157.9 292.4,157.8 293.2,157.7 294,157.6 294.8,157.5 295.6,157.4 296.4,157.3 297.2,157.2 298,157.2 298.8,157.1 299.6,157 300.4,156.9 301.2,156.8 302,156.7 302.8,156.6 303.5,156.5 304.3,156.4 305.1,156.3 305.9,156.2 306.7,156.1 307.5,156 308.3,155.9 309.1,155.8 309.9,155.7 310.7,155.6 311.5,155.5 312.3,155.4 313.1,155.3 313.9,155.2 314.7,155.1 315.5,155 316.3,154.9 317.1,154.8 317.9,154.7 318.7,154.6 319.5,154.5 320.3,154.4 321.1,154.3 321.9,154.2 322.7,154.1 323.5,154 324.3,153.9 325.1,153.8 325.8,153.7 326.6,153.6 327.4,153.5 328.2,153.4 329,153.3 329.8,153.2 330.6,153.1 331.4,153 332.2,152.9 333,152.8 333.8,152.7 334.6,152.6 335.4,152.6 336.2,152.5 337,152.4 337.8,152.3 338.6,152.2 339.4,152.1 340.2,152 341,151.9 341.8,151.8 342.6,151.7 343.4,151.6 344.2,151.5 345,151.4 345.8,151.3 346.6,151.2 347.3,151.1 348.1,151 348.9,150.9 349.7,150.8 350.5,150.7 351.3,150.6 352.1,150.5 352.9,150.4 353.7,150.3 354.5,150.2 355.3,150.1 356.1,150.1 356.9,150 357.7,149.9 358.5,149.8 359.3,149.7 360.1,149.6 360.9,149.5 361.7,149.4 362.5,149.3 363.3,149.3 364.1,149.2 364.9,149.1 365.7,149 366.5,148.9 367.3,148.8 368.1,148.7 368.9,148.7 369.7,148.6 370.5,148.5 371.3,148.4 372.1,148.3 372.9,148.3 373.7,148.2 374.5,148.1 375.3,148 376.1,147.9 376.9,147.9 377.7,147.8 378.5,147.7 379.3,147.6 380.1,147.6 380.9,147.5 381.7,147.4 382.5,147.3 383.3,147.3 384.1,147.2 384.9,147.1 385.7,147.1 386.5,147 387.3,146.9 388.1,146.9 388.9,146.8 389.7,146.7 390.5,146.6 391.2,146.6 392,146.5 392.8,146.4 393.6,146.4 394.4,146.3 395.2,146.3 396,146.2 396.8,146.1 397.6,146.1 398.4,146 399.2,145.9 400,145.9 400.8,145.8 401.6,145.7 402.4,145.7 403.2,145.6 404,145.6 404.8,145.5 405.6,145.4 406.4,145.4 407.2,145.3 408.1,145.3 408.9,145.2 409.7,145.2 410.5,145.1 411.3,145 412.1,145 412.9,144.9 413.7,144.9 414.5,144.8 415.3,144.8 416.1,144.7 416.9,144.6 417.7,144.6 418.5,144.5 419.3,144.5 420.1,144.4 420.9,144.4 421.7,144.3 422.5,144.3 423.3,144.2 424.1,144.1 424.9,144.1 425.7,144 426.5,144 427.3,143.9 428.1,143.9 428.9,143.8 429.7,143.8 430.5,143.7 431.3,143.7 432.1,143.6 432.9,143.6 433.7,143.5 434.5,143.5 435.3,143.4 436.1,143.3 436.9,143.3 437.7,143.2 438.5,143.2 439.3,143.1 440.1,143.1 440.9,143 441.7,143 442.5,142.9 443.3,142.9 444.1,142.8 444.9,142.8 445.7,142.7 446.5,142.7 447.3,142.6 448.1,142.6 448.9,142.5 449.7,142.5 450.5,142.4 451.3,142.3 452.1,142.3 452.9,142.2 453.7,142.2 454.5,142.1 455.3,142.1 456.1,142 456.9,142 457.7,141.9 458.5,141.9 459.3,141.8 460.1,141.7 460.9,141.7 461.7,141.6 462.5,141.6 463.3,141.5 464.1,141.5 464.9,141.4 465.7,141.4 466.5,141.3 467.3,141.2 468.1,141.2 468.9,141.1 469.7,141.1 470.5,141 471.3,141 472.1,140.9 472.9,140.8 473.7,140.8 474.5,140.7 475.3,140.7 476.1,140.6 476.9,140.5 477.7,140.5 478.5,140.4 479.3,140.4 480.1,140.3 480.9,140.2 481.7,140.2 482.5,140.1 483.3,140 484.1,140 484.9,139.9 485.7,139.9 486.5,139.8 487.3,139.7 488.1,139.7 488.9,139.6 489.7,139.5 490.5,139.5 491.3,139.4 492.1,139.3 492.9,139.3 493.7,139.2 494.5,139.1 495.3,139 496.1,139 496.9,138.9 497.7,138.8 498.5,138.8 499.3,138.7 500.1,138.6 500.9,138.5 501.7,138.5 502.5,138.4 503.3,138.3 504.1,138.2 504.9,138.2 505.7,138.1 506.5,138 507.3,137.9 508.1,137.8 508.9,137.8 509.7,137.7 510.5,137.6 511.3,137.5 512.1,137.4 512.9,137.4 513.7,137.3 514.5,137.2 515.3,137.1 516.1,137 516.9,136.9 517.7,136.8 518.5,136.7 519.2,136.7 520,136.6 520.8,136.5 521.6,136.4 522.4,136.3 523.2,136.2 524,136.1 524.8,136 525.6,135.9 526.4,135.8 527.2,135.7 528,135.6 528.8,135.5 529.6,135.4 530.4,135.3 531.2,135.2 532,135.1" stroke="#18881e"/>
</g>
<path d="M249.4,79.5 H531 M249.4,79.5 V282.3 H531" stroke="#000" stroke-width="1.5" fill="none"/>
<path d="M256.8,282.3 v-5 M264.2,282.3 v-5 M271.6,282.3 v-5 M279,282.3 v-5 M286.4,282.3 v-5 M293.8,282.3 v-5 M301.2,282.3 v-5 M308.6,282.3 v-5 M316,282.3 v-5 M323.4,282.3 v-7.5 M330.8,282.3 v-5 M338.2,282.3 v-5 M345.6,282.3 v-5 M353,282.3 v-5 M360.4,282.3 v-5 M367.8,282.3 v-5 M375.2,282.3 v-5 M382.6,282.3 v-5 M390,282.3 v-5 M397.4,282.3 v-7.5 M404.8,282.3 v-5 M412.2,282.3 v-5 M419.6,282.3 v-5 M427,282.3 v-5 M434.4,282.3 v-5 M441.8,282.3 v-5 M449.2,282.3 v-5 M456.6,282.3 v-5 M464,282.3 v-5 M471.4,282.3 v-7.5 M478.8,282.3 v-5 M486.2,282.3 v-5 M493.6,282.3 v-5 M501,282.3 v-5 M508.4,282.3 v-5 M515.8,282.3 v-5 M523.2,282.3 v-5 M249.4,275.5 h3.6 M249.4,268.8 h3.6 M249.4,262 h3.6 M249.4,255.3 h3.6 M249.4,248.5 h5.5 M249.4,241.7 h3.6 M249.4,235 h3.6 M249.4,228.2 h3.6 M249.4,221.5 h3.6 M249.4,214.7 h5.5 M249.4,207.9 h3.6 M249.4,201.2 h3.6 M249.4,194.4 h3.6 M249.4,187.7 h3.6 M249.4,180.9 h5.5 M249.4,174.1 h3.6 M249.4,167.4 h3.6 M249.4,160.6 h3.6 M249.4,153.9 h3.6 M249.4,147.1 h5.5 M249.4,140.3 h3.6 M249.4,133.6 h3.6 M249.4,126.8 h3.6 M249.4,120.1 h3.6 M249.4,113.3 h5.5 M249.4,106.5 h3.6 M249.4,99.8 h3.6 M249.4,93 h3.6 M249.4,86.3 h3.6" stroke="#000" stroke-width="1.3" fill="none"/>
<text x="243.4" y="286.8" font-size="12.5" text-anchor="end">87</text>
<text x="243.4" y="252.9" font-size="12.5" text-anchor="end">88</text>
<text x="243.4" y="219.1" font-size="12.5" text-anchor="end">89</text>
<text x="243.4" y="185.3" font-size="12.5" text-anchor="end">90</text>
<text x="243.4" y="151.5" font-size="12.5" text-anchor="end">91</text>
<text x="243.4" y="117.8" font-size="12.5" text-anchor="end">92</text>
<text x="243.4" y="83.9" font-size="12.5" text-anchor="end">93</text>
<text x="249.4" y="297.8" font-size="11" text-anchor="middle">450</text>
<text x="323.4" y="297.8" font-size="11" text-anchor="middle">500</text>
<text x="397.4" y="297.8" font-size="11" text-anchor="middle">550</text>
<text x="471.4" y="297.8" font-size="11" text-anchor="middle">600</text>
<path d="M351.5,151.1 L397.1,201.1" stroke="#256a2c" stroke-width="1.6" fill="none"/>
<path d="M351.5,162.8 L397.1,214.9" stroke="#7232a8" stroke-width="1.6" fill="none"/>
<path d="M351.5,169.8 L397.1,231.7" stroke="#0c2466" stroke-width="1.6" fill="none"/>
<path d="M351.5,182.8 L397.1,246.5" stroke="#ff0c0c" stroke-width="1.6" fill="none"/>
<path d="M351.5,191.3 L397.1,262.2" stroke="#000000" stroke-width="1.6" fill="none"/>
<circle cx="351.5" cy="151.1" r="3.6" fill="#256a2c"/>
<circle cx="351.5" cy="162.8" r="3.6" fill="#7232a8"/>
<circle cx="351.5" cy="169.8" r="3.6" fill="#0c2466"/>
<circle cx="351.5" cy="182.8" r="3.6" fill="#ff0c0c"/>
<circle cx="351.5" cy="191.3" r="3.6" fill="#000000"/>
<text x="406.1" y="205.7" font-size="12.8" fill="#237423"><tspan font-style="italic">m</tspan>-HCR (12 phr)</text>
<text x="406.1" y="220.9" font-size="12.8" fill="#7232a8"><tspan font-style="italic">m</tspan>-HCR (9 phr)</text>
<text x="406.1" y="236.3" font-size="12.8" fill="#14286c"><tspan font-style="italic">m</tspan>-HCR (6 phr)</text>
<text x="406.1" y="251.3" font-size="12.8" fill="#ff1414"><tspan font-style="italic">m</tspan>-HCR (3 phr)</text>
<text x="406.1" y="266" font-size="12.8" fill="#000000"><tspan font-style="italic">m</tspan>-HCR (0 phr)</text>
<path d="M531,12.5 V341.2" stroke="#000" stroke-width="1.8" fill="none"/>
<g id="footfix" fill="#fff"><rect x="36.44" y="17.62" width="4.43" height="2.78"/><rect x="43.34" y="17.62" width="4.23" height="2.78"/><rect x="236.29" y="150.00" width="3.05" height="2.10"/><rect x="241.04" y="150.00" width="2.91" height="2.10"/><rect x="457.15" y="204.16" width="3.12" height="2.14"/><rect x="462.00" y="204.16" width="2.41" height="2.14"/></g></svg></body></html>
